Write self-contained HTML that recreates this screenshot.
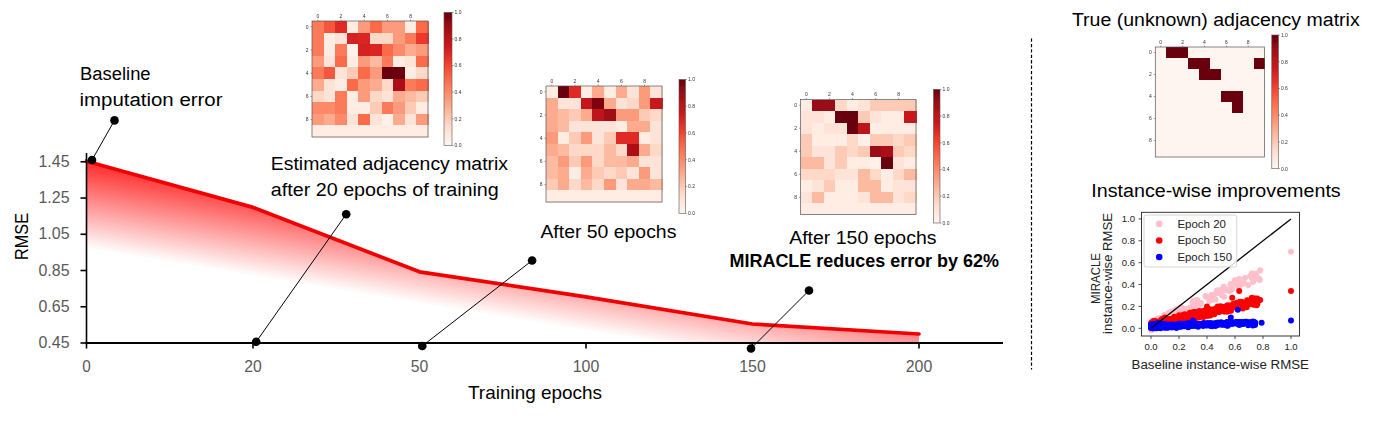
<!DOCTYPE html>
<html><head><meta charset="utf-8"><title>MIRACLE figure</title>
<style>html,body{margin:0;padding:0;background:#fff;width:1376px;height:422px;overflow:hidden;}svg{display:block;font-family:"Liberation Sans", sans-serif;}</style>
</head><body>
<svg width="1376" height="422" viewBox="0 0 1376 422" font-family="'Liberation Sans', sans-serif">
<defs>
<linearGradient id="areaGrad" gradientUnits="userSpaceOnUse" x1="90.0" y1="144.0" x2="73.1" y2="246.5">
<stop offset="0" stop-color="#ff0000" stop-opacity="1"/>
<stop offset="1" stop-color="#ff0000" stop-opacity="0"/>
</linearGradient>
<linearGradient id="cb" x1="0" y1="1" x2="0" y2="0">
<stop offset="0.000" stop-color="#fff5f0"/>
<stop offset="0.125" stop-color="#fee0d2"/>
<stop offset="0.250" stop-color="#fcbba1"/>
<stop offset="0.375" stop-color="#fc9272"/>
<stop offset="0.500" stop-color="#fb6a4a"/>
<stop offset="0.625" stop-color="#ef3b2c"/>
<stop offset="0.750" stop-color="#cb181d"/>
<stop offset="0.875" stop-color="#a50f15"/>
<stop offset="1.000" stop-color="#67000d"/>
</linearGradient>
</defs>
<polygon points="86.5,161.2 253.0,207.4 419.5,271.8 586.0,296.8 752.5,324.0 919.0,334.0 919,343 86.5,343" fill="url(#areaGrad)"/>
<polyline points="86.5,161.2 253.0,207.4 419.5,271.8 586.0,296.8 752.5,324.0 919.0,334.0" fill="none" stroke="#f00000" stroke-width="3.7" stroke-linejoin="round" stroke-linecap="round"/>
<line x1="86.5" y1="153" x2="86.5" y2="343.5" stroke="#000" stroke-width="1.6"/>
<line x1="85.8" y1="343" x2="1003" y2="343" stroke="#000" stroke-width="2"/>
<line x1="80.5" y1="343.00" x2="86.5" y2="343.00" stroke="#000" stroke-width="1.6"/>
<text x="69.5" y="348.00" font-size="16" fill="#595959" text-anchor="end" textLength="31" lengthAdjust="spacingAndGlyphs">0.45</text>
<line x1="80.5" y1="306.76" x2="86.5" y2="306.76" stroke="#000" stroke-width="1.6"/>
<text x="69.5" y="311.76" font-size="16" fill="#595959" text-anchor="end" textLength="31" lengthAdjust="spacingAndGlyphs">0.65</text>
<line x1="80.5" y1="270.52" x2="86.5" y2="270.52" stroke="#000" stroke-width="1.6"/>
<text x="69.5" y="275.52" font-size="16" fill="#595959" text-anchor="end" textLength="31" lengthAdjust="spacingAndGlyphs">0.85</text>
<line x1="80.5" y1="234.28" x2="86.5" y2="234.28" stroke="#000" stroke-width="1.6"/>
<text x="69.5" y="239.28" font-size="16" fill="#595959" text-anchor="end" textLength="31" lengthAdjust="spacingAndGlyphs">1.05</text>
<line x1="80.5" y1="198.04" x2="86.5" y2="198.04" stroke="#000" stroke-width="1.6"/>
<text x="69.5" y="203.04" font-size="16" fill="#595959" text-anchor="end" textLength="31" lengthAdjust="spacingAndGlyphs">1.25</text>
<line x1="80.5" y1="161.80" x2="86.5" y2="161.80" stroke="#000" stroke-width="1.6"/>
<text x="69.5" y="166.80" font-size="16" fill="#595959" text-anchor="end" textLength="31" lengthAdjust="spacingAndGlyphs">1.45</text>
<line x1="86.50" y1="342" x2="86.50" y2="348.5" stroke="#000" stroke-width="1.6"/>
<text x="86.50" y="371.8" font-size="16" fill="#595959" text-anchor="middle" textLength="8.5" lengthAdjust="spacingAndGlyphs">0</text>
<line x1="253.00" y1="342" x2="253.00" y2="348.5" stroke="#000" stroke-width="1.6"/>
<text x="253.00" y="371.8" font-size="16" fill="#595959" text-anchor="middle" textLength="17.5" lengthAdjust="spacingAndGlyphs">20</text>
<line x1="419.50" y1="342" x2="419.50" y2="348.5" stroke="#000" stroke-width="1.6"/>
<text x="419.50" y="371.8" font-size="16" fill="#595959" text-anchor="middle" textLength="17.5" lengthAdjust="spacingAndGlyphs">50</text>
<line x1="586.00" y1="342" x2="586.00" y2="348.5" stroke="#000" stroke-width="1.6"/>
<text x="586.00" y="371.8" font-size="16" fill="#595959" text-anchor="middle" textLength="26.5" lengthAdjust="spacingAndGlyphs">100</text>
<line x1="752.50" y1="342" x2="752.50" y2="348.5" stroke="#000" stroke-width="1.6"/>
<text x="752.50" y="371.8" font-size="16" fill="#595959" text-anchor="middle" textLength="26.5" lengthAdjust="spacingAndGlyphs">150</text>
<line x1="919.00" y1="342" x2="919.00" y2="348.5" stroke="#000" stroke-width="1.6"/>
<text x="919.00" y="371.8" font-size="16" fill="#595959" text-anchor="middle" textLength="26.5" lengthAdjust="spacingAndGlyphs">200</text>
<text x="0" y="0" font-size="19" fill="#000" text-anchor="middle" transform="translate(28.2,236.5) rotate(-90)" textLength="47" lengthAdjust="spacingAndGlyphs">RMSE</text>
<text x="468" y="399" font-size="19" fill="#000" textLength="134" lengthAdjust="spacingAndGlyphs">Training epochs</text>
<filter id="soft" x="-5%" y="-5%" width="110%" height="110%"><feGaussianBlur stdDeviation="0.45"/></filter><g filter="url(#soft)">
<g shape-rendering="crispEdges">
<rect x="312.00" y="21.00" width="12.20" height="12.20" fill="#fb7a5a"/>
<rect x="323.60" y="21.00" width="12.20" height="12.20" fill="#f6573e"/>
<rect x="335.20" y="21.00" width="12.20" height="12.20" fill="#df2c25"/>
<rect x="346.80" y="21.00" width="12.20" height="12.20" fill="#ffede4"/>
<rect x="358.40" y="21.00" width="12.20" height="12.20" fill="#fc9a7b"/>
<rect x="370.00" y="21.00" width="12.20" height="12.20" fill="#fb6a4a"/>
<rect x="381.60" y="21.00" width="12.20" height="12.20" fill="#fc9a7b"/>
<rect x="393.20" y="21.00" width="12.20" height="12.20" fill="#fc9a7b"/>
<rect x="404.80" y="21.00" width="12.20" height="12.20" fill="#ffede4"/>
<rect x="416.40" y="21.00" width="12.20" height="12.20" fill="#fb6a4a"/>
<rect x="312.00" y="32.60" width="12.20" height="12.20" fill="#fb7a5a"/>
<rect x="323.60" y="32.60" width="12.20" height="12.20" fill="#ffede4"/>
<rect x="335.20" y="32.60" width="12.20" height="12.20" fill="#fee4d8"/>
<rect x="346.80" y="32.60" width="12.20" height="12.20" fill="#d42021"/>
<rect x="358.40" y="32.60" width="12.20" height="12.20" fill="#d92623"/>
<rect x="370.00" y="32.60" width="12.20" height="12.20" fill="#fed9c8"/>
<rect x="381.60" y="32.60" width="12.20" height="12.20" fill="#fed9c8"/>
<rect x="393.20" y="32.60" width="12.20" height="12.20" fill="#fc9a7b"/>
<rect x="404.80" y="32.60" width="12.20" height="12.20" fill="#fb7a5a"/>
<rect x="416.40" y="32.60" width="12.20" height="12.20" fill="#eb372a"/>
<rect x="312.00" y="44.20" width="12.20" height="12.20" fill="#fb7a5a"/>
<rect x="323.60" y="44.20" width="12.20" height="12.20" fill="#ffede4"/>
<rect x="335.20" y="44.20" width="12.20" height="12.20" fill="#fb7a5a"/>
<rect x="346.80" y="44.20" width="12.20" height="12.20" fill="#fff0e9"/>
<rect x="358.40" y="44.20" width="12.20" height="12.20" fill="#d42021"/>
<rect x="370.00" y="44.20" width="12.20" height="12.20" fill="#d92623"/>
<rect x="381.60" y="44.20" width="12.20" height="12.20" fill="#fb6a4a"/>
<rect x="393.20" y="44.20" width="12.20" height="12.20" fill="#fc8a6a"/>
<rect x="404.80" y="44.20" width="12.20" height="12.20" fill="#fcab8e"/>
<rect x="416.40" y="44.20" width="12.20" height="12.20" fill="#fc9a7b"/>
<rect x="312.00" y="55.80" width="12.20" height="12.20" fill="#fc9a7b"/>
<rect x="323.60" y="55.80" width="12.20" height="12.20" fill="#fee4d8"/>
<rect x="335.20" y="55.80" width="12.20" height="12.20" fill="#fb6a4a"/>
<rect x="346.80" y="55.80" width="12.20" height="12.20" fill="#ffede4"/>
<rect x="358.40" y="55.80" width="12.20" height="12.20" fill="#fc9a7b"/>
<rect x="370.00" y="55.80" width="12.20" height="12.20" fill="#fcbba1"/>
<rect x="381.60" y="55.80" width="12.20" height="12.20" fill="#fb7a5a"/>
<rect x="393.20" y="55.80" width="12.20" height="12.20" fill="#ffede4"/>
<rect x="404.80" y="55.80" width="12.20" height="12.20" fill="#fee4d8"/>
<rect x="416.40" y="55.80" width="12.20" height="12.20" fill="#fb6a4a"/>
<rect x="312.00" y="67.40" width="12.20" height="12.20" fill="#fb7a5a"/>
<rect x="323.60" y="67.40" width="12.20" height="12.20" fill="#f6573e"/>
<rect x="335.20" y="67.40" width="12.20" height="12.20" fill="#fee4d8"/>
<rect x="346.80" y="67.40" width="12.20" height="12.20" fill="#fdcab5"/>
<rect x="358.40" y="67.40" width="12.20" height="12.20" fill="#fb6a4a"/>
<rect x="370.00" y="67.40" width="12.20" height="12.20" fill="#fc9a7b"/>
<rect x="381.60" y="67.40" width="12.20" height="12.20" fill="#67000d"/>
<rect x="393.20" y="67.40" width="12.20" height="12.20" fill="#67000d"/>
<rect x="404.80" y="67.40" width="12.20" height="12.20" fill="#ffede4"/>
<rect x="416.40" y="67.40" width="12.20" height="12.20" fill="#fed9c8"/>
<rect x="312.00" y="79.00" width="12.20" height="12.20" fill="#fcab8e"/>
<rect x="323.60" y="79.00" width="12.20" height="12.20" fill="#fee4d8"/>
<rect x="335.20" y="79.00" width="12.20" height="12.20" fill="#ffede4"/>
<rect x="346.80" y="79.00" width="12.20" height="12.20" fill="#fb6a4a"/>
<rect x="358.40" y="79.00" width="12.20" height="12.20" fill="#fc9a7b"/>
<rect x="370.00" y="79.00" width="12.20" height="12.20" fill="#fcab8e"/>
<rect x="381.60" y="79.00" width="12.20" height="12.20" fill="#fed9c8"/>
<rect x="393.20" y="79.00" width="12.20" height="12.20" fill="#ad1117"/>
<rect x="404.80" y="79.00" width="12.20" height="12.20" fill="#fb7a5a"/>
<rect x="416.40" y="79.00" width="12.20" height="12.20" fill="#fb6a4a"/>
<rect x="312.00" y="90.60" width="12.20" height="12.20" fill="#fed9c8"/>
<rect x="323.60" y="90.60" width="12.20" height="12.20" fill="#fee4d8"/>
<rect x="335.20" y="90.60" width="12.20" height="12.20" fill="#fb7a5a"/>
<rect x="346.80" y="90.60" width="12.20" height="12.20" fill="#ffede4"/>
<rect x="358.40" y="90.60" width="12.20" height="12.20" fill="#fc9a7b"/>
<rect x="370.00" y="90.60" width="12.20" height="12.20" fill="#fed9c8"/>
<rect x="381.60" y="90.60" width="12.20" height="12.20" fill="#fee4d8"/>
<rect x="393.20" y="90.60" width="12.20" height="12.20" fill="#fcab8e"/>
<rect x="404.80" y="90.60" width="12.20" height="12.20" fill="#fcbba1"/>
<rect x="416.40" y="90.60" width="12.20" height="12.20" fill="#fdcab5"/>
<rect x="312.00" y="102.20" width="12.20" height="12.20" fill="#fc8a6a"/>
<rect x="323.60" y="102.20" width="12.20" height="12.20" fill="#fc8a6a"/>
<rect x="335.20" y="102.20" width="12.20" height="12.20" fill="#fb7a5a"/>
<rect x="346.80" y="102.20" width="12.20" height="12.20" fill="#ffede4"/>
<rect x="358.40" y="102.20" width="12.20" height="12.20" fill="#ffede4"/>
<rect x="370.00" y="102.20" width="12.20" height="12.20" fill="#fdcab5"/>
<rect x="381.60" y="102.20" width="12.20" height="12.20" fill="#fb7a5a"/>
<rect x="393.20" y="102.20" width="12.20" height="12.20" fill="#fc9a7b"/>
<rect x="404.80" y="102.20" width="12.20" height="12.20" fill="#fdcab5"/>
<rect x="416.40" y="102.20" width="12.20" height="12.20" fill="#ffede4"/>
<rect x="312.00" y="113.80" width="12.20" height="12.20" fill="#fc9a7b"/>
<rect x="323.60" y="113.80" width="12.20" height="12.20" fill="#fcab8e"/>
<rect x="335.20" y="113.80" width="12.20" height="12.20" fill="#fc8a6a"/>
<rect x="346.80" y="113.80" width="12.20" height="12.20" fill="#fee4d8"/>
<rect x="358.40" y="113.80" width="12.20" height="12.20" fill="#fb6a4a"/>
<rect x="370.00" y="113.80" width="12.20" height="12.20" fill="#fee4d8"/>
<rect x="381.60" y="113.80" width="12.20" height="12.20" fill="#fff0e9"/>
<rect x="393.20" y="113.80" width="12.20" height="12.20" fill="#fcab8e"/>
<rect x="404.80" y="113.80" width="12.20" height="12.20" fill="#fee4d8"/>
<rect x="416.40" y="113.80" width="12.20" height="12.20" fill="#fc9a7b"/>
<rect x="312.00" y="125.40" width="12.20" height="12.20" fill="#ffede4"/>
<rect x="323.60" y="125.40" width="12.20" height="12.20" fill="#ffede4"/>
<rect x="335.20" y="125.40" width="12.20" height="12.20" fill="#ffede4"/>
<rect x="346.80" y="125.40" width="12.20" height="12.20" fill="#ffede4"/>
<rect x="358.40" y="125.40" width="12.20" height="12.20" fill="#ffede4"/>
<rect x="370.00" y="125.40" width="12.20" height="12.20" fill="#ffede4"/>
<rect x="381.60" y="125.40" width="12.20" height="12.20" fill="#ffede4"/>
<rect x="393.20" y="125.40" width="12.20" height="12.20" fill="#ffede4"/>
<rect x="404.80" y="125.40" width="12.20" height="12.20" fill="#ffede4"/>
<rect x="416.40" y="125.40" width="12.20" height="12.20" fill="#ffede4"/>
</g>
<rect x="312.00" y="21.00" width="116.00" height="116.00" fill="none" stroke="#555" stroke-width="0.7"/>
<line x1="317.80" y1="19.50" x2="317.80" y2="21.00" stroke="#444" stroke-width="0.5"/>
<text x="317.80" y="17.50" font-size="5" fill="#333" text-anchor="middle">0</text>
<line x1="310.50" y1="26.80" x2="312.00" y2="26.80" stroke="#444" stroke-width="0.5"/>
<text x="308.50" y="28.60" font-size="5" fill="#333" text-anchor="end">0</text>
<line x1="341.00" y1="19.50" x2="341.00" y2="21.00" stroke="#444" stroke-width="0.5"/>
<text x="341.00" y="17.50" font-size="5" fill="#333" text-anchor="middle">2</text>
<line x1="310.50" y1="50.00" x2="312.00" y2="50.00" stroke="#444" stroke-width="0.5"/>
<text x="308.50" y="51.80" font-size="5" fill="#333" text-anchor="end">2</text>
<line x1="364.20" y1="19.50" x2="364.20" y2="21.00" stroke="#444" stroke-width="0.5"/>
<text x="364.20" y="17.50" font-size="5" fill="#333" text-anchor="middle">4</text>
<line x1="310.50" y1="73.20" x2="312.00" y2="73.20" stroke="#444" stroke-width="0.5"/>
<text x="308.50" y="75.00" font-size="5" fill="#333" text-anchor="end">4</text>
<line x1="387.40" y1="19.50" x2="387.40" y2="21.00" stroke="#444" stroke-width="0.5"/>
<text x="387.40" y="17.50" font-size="5" fill="#333" text-anchor="middle">6</text>
<line x1="310.50" y1="96.40" x2="312.00" y2="96.40" stroke="#444" stroke-width="0.5"/>
<text x="308.50" y="98.20" font-size="5" fill="#333" text-anchor="end">6</text>
<line x1="410.60" y1="19.50" x2="410.60" y2="21.00" stroke="#444" stroke-width="0.5"/>
<text x="410.60" y="17.50" font-size="5" fill="#333" text-anchor="middle">8</text>
<line x1="310.50" y1="119.60" x2="312.00" y2="119.60" stroke="#444" stroke-width="0.5"/>
<text x="308.50" y="121.40" font-size="5" fill="#333" text-anchor="end">8</text>
<rect x="444.00" y="12.40" width="8.00" height="133.10" fill="url(#cb)" stroke="#555" stroke-width="0.6"/>
<line x1="452.00" y1="145.50" x2="453.50" y2="145.50" stroke="#444" stroke-width="0.5"/>
<text x="454.50" y="147.30" font-size="5" fill="#333">0.0</text>
<line x1="452.00" y1="118.88" x2="453.50" y2="118.88" stroke="#444" stroke-width="0.5"/>
<text x="454.50" y="120.68" font-size="5" fill="#333">0.2</text>
<line x1="452.00" y1="92.26" x2="453.50" y2="92.26" stroke="#444" stroke-width="0.5"/>
<text x="454.50" y="94.06" font-size="5" fill="#333">0.4</text>
<line x1="452.00" y1="65.64" x2="453.50" y2="65.64" stroke="#444" stroke-width="0.5"/>
<text x="454.50" y="67.44" font-size="5" fill="#333">0.6</text>
<line x1="452.00" y1="39.02" x2="453.50" y2="39.02" stroke="#444" stroke-width="0.5"/>
<text x="454.50" y="40.82" font-size="5" fill="#333">0.8</text>
<line x1="452.00" y1="12.40" x2="453.50" y2="12.40" stroke="#444" stroke-width="0.5"/>
<text x="454.50" y="14.20" font-size="5" fill="#333">1.0</text>
<g shape-rendering="crispEdges">
<rect x="546.00" y="86.00" width="12.20" height="12.20" fill="#ffede4"/>
<rect x="557.60" y="86.00" width="12.20" height="12.20" fill="#67000d"/>
<rect x="569.20" y="86.00" width="12.20" height="12.20" fill="#df2c25"/>
<rect x="580.80" y="86.00" width="12.20" height="12.20" fill="#ffede4"/>
<rect x="592.40" y="86.00" width="12.20" height="12.20" fill="#fcab8e"/>
<rect x="604.00" y="86.00" width="12.20" height="12.20" fill="#ffede4"/>
<rect x="615.60" y="86.00" width="12.20" height="12.20" fill="#fcab8e"/>
<rect x="627.20" y="86.00" width="12.20" height="12.20" fill="#fee4d8"/>
<rect x="638.80" y="86.00" width="12.20" height="12.20" fill="#fc9a7b"/>
<rect x="650.40" y="86.00" width="12.20" height="12.20" fill="#fee4d8"/>
<rect x="546.00" y="97.60" width="12.20" height="12.20" fill="#fcab8e"/>
<rect x="557.60" y="97.60" width="12.20" height="12.20" fill="#fee4d8"/>
<rect x="569.20" y="97.60" width="12.20" height="12.20" fill="#fee4d8"/>
<rect x="580.80" y="97.60" width="12.20" height="12.20" fill="#c2161b"/>
<rect x="592.40" y="97.60" width="12.20" height="12.20" fill="#800610"/>
<rect x="604.00" y="97.60" width="12.20" height="12.20" fill="#fcab8e"/>
<rect x="615.60" y="97.60" width="12.20" height="12.20" fill="#fee4d8"/>
<rect x="627.20" y="97.60" width="12.20" height="12.20" fill="#fed9c8"/>
<rect x="638.80" y="97.60" width="12.20" height="12.20" fill="#fc9a7b"/>
<rect x="650.40" y="97.60" width="12.20" height="12.20" fill="#cb181d"/>
<rect x="546.00" y="109.20" width="12.20" height="12.20" fill="#fcab8e"/>
<rect x="557.60" y="109.20" width="12.20" height="12.20" fill="#fcbba1"/>
<rect x="569.20" y="109.20" width="12.20" height="12.20" fill="#fdcab5"/>
<rect x="580.80" y="109.20" width="12.20" height="12.20" fill="#fcab8e"/>
<rect x="592.40" y="109.20" width="12.20" height="12.20" fill="#bc141a"/>
<rect x="604.00" y="109.20" width="12.20" height="12.20" fill="#a30e15"/>
<rect x="615.60" y="109.20" width="12.20" height="12.20" fill="#fc9a7b"/>
<rect x="627.20" y="109.20" width="12.20" height="12.20" fill="#fc9a7b"/>
<rect x="638.80" y="109.20" width="12.20" height="12.20" fill="#fdcab5"/>
<rect x="650.40" y="109.20" width="12.20" height="12.20" fill="#fed9c8"/>
<rect x="546.00" y="120.80" width="12.20" height="12.20" fill="#fcab8e"/>
<rect x="557.60" y="120.80" width="12.20" height="12.20" fill="#fcbba1"/>
<rect x="569.20" y="120.80" width="12.20" height="12.20" fill="#fee4d8"/>
<rect x="580.80" y="120.80" width="12.20" height="12.20" fill="#fee4d8"/>
<rect x="592.40" y="120.80" width="12.20" height="12.20" fill="#fee4d8"/>
<rect x="604.00" y="120.80" width="12.20" height="12.20" fill="#fee4d8"/>
<rect x="615.60" y="120.80" width="12.20" height="12.20" fill="#ffede4"/>
<rect x="627.20" y="120.80" width="12.20" height="12.20" fill="#fcab8e"/>
<rect x="638.80" y="120.80" width="12.20" height="12.20" fill="#fcab8e"/>
<rect x="650.40" y="120.80" width="12.20" height="12.20" fill="#fee4d8"/>
<rect x="546.00" y="132.40" width="12.20" height="12.20" fill="#fc9a7b"/>
<rect x="557.60" y="132.40" width="12.20" height="12.20" fill="#ffede4"/>
<rect x="569.20" y="132.40" width="12.20" height="12.20" fill="#fdcab5"/>
<rect x="580.80" y="132.40" width="12.20" height="12.20" fill="#fc9a7b"/>
<rect x="592.40" y="132.40" width="12.20" height="12.20" fill="#fee4d8"/>
<rect x="604.00" y="132.40" width="12.20" height="12.20" fill="#fdcab5"/>
<rect x="615.60" y="132.40" width="12.20" height="12.20" fill="#df2c25"/>
<rect x="627.20" y="132.40" width="12.20" height="12.20" fill="#df2c25"/>
<rect x="638.80" y="132.40" width="12.20" height="12.20" fill="#ffede4"/>
<rect x="650.40" y="132.40" width="12.20" height="12.20" fill="#fee4d8"/>
<rect x="546.00" y="144.00" width="12.20" height="12.20" fill="#fcab8e"/>
<rect x="557.60" y="144.00" width="12.20" height="12.20" fill="#fcbba1"/>
<rect x="569.20" y="144.00" width="12.20" height="12.20" fill="#fed9c8"/>
<rect x="580.80" y="144.00" width="12.20" height="12.20" fill="#fed9c8"/>
<rect x="592.40" y="144.00" width="12.20" height="12.20" fill="#fed9c8"/>
<rect x="604.00" y="144.00" width="12.20" height="12.20" fill="#fcbba1"/>
<rect x="615.60" y="144.00" width="12.20" height="12.20" fill="#fed9c8"/>
<rect x="627.20" y="144.00" width="12.20" height="12.20" fill="#ad1117"/>
<rect x="638.80" y="144.00" width="12.20" height="12.20" fill="#fcab8e"/>
<rect x="650.40" y="144.00" width="12.20" height="12.20" fill="#fed9c8"/>
<rect x="546.00" y="155.60" width="12.20" height="12.20" fill="#fcbba1"/>
<rect x="557.60" y="155.60" width="12.20" height="12.20" fill="#fc9a7b"/>
<rect x="569.20" y="155.60" width="12.20" height="12.20" fill="#fdcab5"/>
<rect x="580.80" y="155.60" width="12.20" height="12.20" fill="#fc9a7b"/>
<rect x="592.40" y="155.60" width="12.20" height="12.20" fill="#fed9c8"/>
<rect x="604.00" y="155.60" width="12.20" height="12.20" fill="#fcbba1"/>
<rect x="615.60" y="155.60" width="12.20" height="12.20" fill="#fcbba1"/>
<rect x="627.20" y="155.60" width="12.20" height="12.20" fill="#fcab8e"/>
<rect x="638.80" y="155.60" width="12.20" height="12.20" fill="#fee4d8"/>
<rect x="650.40" y="155.60" width="12.20" height="12.20" fill="#fee4d8"/>
<rect x="546.00" y="167.20" width="12.20" height="12.20" fill="#fcbba1"/>
<rect x="557.60" y="167.20" width="12.20" height="12.20" fill="#fcab8e"/>
<rect x="569.20" y="167.20" width="12.20" height="12.20" fill="#ffede4"/>
<rect x="580.80" y="167.20" width="12.20" height="12.20" fill="#fcab8e"/>
<rect x="592.40" y="167.20" width="12.20" height="12.20" fill="#fdcab5"/>
<rect x="604.00" y="167.20" width="12.20" height="12.20" fill="#fed9c8"/>
<rect x="615.60" y="167.20" width="12.20" height="12.20" fill="#fdcab5"/>
<rect x="627.20" y="167.20" width="12.20" height="12.20" fill="#fee4d8"/>
<rect x="638.80" y="167.20" width="12.20" height="12.20" fill="#fc9a7b"/>
<rect x="650.40" y="167.20" width="12.20" height="12.20" fill="#fee4d8"/>
<rect x="546.00" y="178.80" width="12.20" height="12.20" fill="#fdcab5"/>
<rect x="557.60" y="178.80" width="12.20" height="12.20" fill="#fcab8e"/>
<rect x="569.20" y="178.80" width="12.20" height="12.20" fill="#fed9c8"/>
<rect x="580.80" y="178.80" width="12.20" height="12.20" fill="#fcbba1"/>
<rect x="592.40" y="178.80" width="12.20" height="12.20" fill="#fed9c8"/>
<rect x="604.00" y="178.80" width="12.20" height="12.20" fill="#fc9a7b"/>
<rect x="615.60" y="178.80" width="12.20" height="12.20" fill="#fee4d8"/>
<rect x="627.20" y="178.80" width="12.20" height="12.20" fill="#fcab8e"/>
<rect x="638.80" y="178.80" width="12.20" height="12.20" fill="#fcab8e"/>
<rect x="650.40" y="178.80" width="12.20" height="12.20" fill="#fcbba1"/>
<rect x="546.00" y="190.40" width="12.20" height="12.20" fill="#ffede4"/>
<rect x="557.60" y="190.40" width="12.20" height="12.20" fill="#ffede4"/>
<rect x="569.20" y="190.40" width="12.20" height="12.20" fill="#ffede4"/>
<rect x="580.80" y="190.40" width="12.20" height="12.20" fill="#ffede4"/>
<rect x="592.40" y="190.40" width="12.20" height="12.20" fill="#ffede4"/>
<rect x="604.00" y="190.40" width="12.20" height="12.20" fill="#ffede4"/>
<rect x="615.60" y="190.40" width="12.20" height="12.20" fill="#ffede4"/>
<rect x="627.20" y="190.40" width="12.20" height="12.20" fill="#ffede4"/>
<rect x="638.80" y="190.40" width="12.20" height="12.20" fill="#ffede4"/>
<rect x="650.40" y="190.40" width="12.20" height="12.20" fill="#ffede4"/>
</g>
<rect x="546.00" y="86.00" width="116.00" height="116.00" fill="none" stroke="#555" stroke-width="0.7"/>
<line x1="551.80" y1="84.50" x2="551.80" y2="86.00" stroke="#444" stroke-width="0.5"/>
<text x="551.80" y="82.50" font-size="5" fill="#333" text-anchor="middle">0</text>
<line x1="544.50" y1="91.80" x2="546.00" y2="91.80" stroke="#444" stroke-width="0.5"/>
<text x="542.50" y="93.60" font-size="5" fill="#333" text-anchor="end">0</text>
<line x1="575.00" y1="84.50" x2="575.00" y2="86.00" stroke="#444" stroke-width="0.5"/>
<text x="575.00" y="82.50" font-size="5" fill="#333" text-anchor="middle">2</text>
<line x1="544.50" y1="115.00" x2="546.00" y2="115.00" stroke="#444" stroke-width="0.5"/>
<text x="542.50" y="116.80" font-size="5" fill="#333" text-anchor="end">2</text>
<line x1="598.20" y1="84.50" x2="598.20" y2="86.00" stroke="#444" stroke-width="0.5"/>
<text x="598.20" y="82.50" font-size="5" fill="#333" text-anchor="middle">4</text>
<line x1="544.50" y1="138.20" x2="546.00" y2="138.20" stroke="#444" stroke-width="0.5"/>
<text x="542.50" y="140.00" font-size="5" fill="#333" text-anchor="end">4</text>
<line x1="621.40" y1="84.50" x2="621.40" y2="86.00" stroke="#444" stroke-width="0.5"/>
<text x="621.40" y="82.50" font-size="5" fill="#333" text-anchor="middle">6</text>
<line x1="544.50" y1="161.40" x2="546.00" y2="161.40" stroke="#444" stroke-width="0.5"/>
<text x="542.50" y="163.20" font-size="5" fill="#333" text-anchor="end">6</text>
<line x1="644.60" y1="84.50" x2="644.60" y2="86.00" stroke="#444" stroke-width="0.5"/>
<text x="644.60" y="82.50" font-size="5" fill="#333" text-anchor="middle">8</text>
<line x1="544.50" y1="184.60" x2="546.00" y2="184.60" stroke="#444" stroke-width="0.5"/>
<text x="542.50" y="186.40" font-size="5" fill="#333" text-anchor="end">8</text>
<rect x="679.00" y="79.50" width="6.50" height="133.80" fill="url(#cb)" stroke="#555" stroke-width="0.6"/>
<line x1="685.50" y1="213.30" x2="687.00" y2="213.30" stroke="#444" stroke-width="0.5"/>
<text x="688.00" y="215.10" font-size="5" fill="#333">0.0</text>
<line x1="685.50" y1="186.54" x2="687.00" y2="186.54" stroke="#444" stroke-width="0.5"/>
<text x="688.00" y="188.34" font-size="5" fill="#333">0.2</text>
<line x1="685.50" y1="159.78" x2="687.00" y2="159.78" stroke="#444" stroke-width="0.5"/>
<text x="688.00" y="161.58" font-size="5" fill="#333">0.4</text>
<line x1="685.50" y1="133.02" x2="687.00" y2="133.02" stroke="#444" stroke-width="0.5"/>
<text x="688.00" y="134.82" font-size="5" fill="#333">0.6</text>
<line x1="685.50" y1="106.26" x2="687.00" y2="106.26" stroke="#444" stroke-width="0.5"/>
<text x="688.00" y="108.06" font-size="5" fill="#333">0.8</text>
<line x1="685.50" y1="79.50" x2="687.00" y2="79.50" stroke="#444" stroke-width="0.5"/>
<text x="688.00" y="81.30" font-size="5" fill="#333">1.0</text>
<g shape-rendering="crispEdges">
<rect x="800.50" y="99.50" width="12.15" height="12.11" fill="#ffede4"/>
<rect x="812.05" y="99.50" width="12.15" height="12.11" fill="#990c13"/>
<rect x="823.60" y="99.50" width="12.15" height="12.11" fill="#990c13"/>
<rect x="835.15" y="99.50" width="12.15" height="12.11" fill="#fed9c8"/>
<rect x="846.70" y="99.50" width="12.15" height="12.11" fill="#ffede4"/>
<rect x="858.25" y="99.50" width="12.15" height="12.11" fill="#fee4d8"/>
<rect x="869.80" y="99.50" width="12.15" height="12.11" fill="#fdcab5"/>
<rect x="881.35" y="99.50" width="12.15" height="12.11" fill="#fdcab5"/>
<rect x="892.90" y="99.50" width="12.15" height="12.11" fill="#fdcab5"/>
<rect x="904.45" y="99.50" width="12.15" height="12.11" fill="#fdcab5"/>
<rect x="800.50" y="111.01" width="12.15" height="12.11" fill="#fee4d8"/>
<rect x="812.05" y="111.01" width="12.15" height="12.11" fill="#fee4d8"/>
<rect x="823.60" y="111.01" width="12.15" height="12.11" fill="#ffede4"/>
<rect x="835.15" y="111.01" width="12.15" height="12.11" fill="#67000d"/>
<rect x="846.70" y="111.01" width="12.15" height="12.11" fill="#67000d"/>
<rect x="858.25" y="111.01" width="12.15" height="12.11" fill="#fdcab5"/>
<rect x="869.80" y="111.01" width="12.15" height="12.11" fill="#fee4d8"/>
<rect x="881.35" y="111.01" width="12.15" height="12.11" fill="#ffede4"/>
<rect x="892.90" y="111.01" width="12.15" height="12.11" fill="#ffede4"/>
<rect x="904.45" y="111.01" width="12.15" height="12.11" fill="#c8171c"/>
<rect x="800.50" y="122.52" width="12.15" height="12.11" fill="#fee4d8"/>
<rect x="812.05" y="122.52" width="12.15" height="12.11" fill="#ffede4"/>
<rect x="823.60" y="122.52" width="12.15" height="12.11" fill="#fee4d8"/>
<rect x="835.15" y="122.52" width="12.15" height="12.11" fill="#fee4d8"/>
<rect x="846.70" y="122.52" width="12.15" height="12.11" fill="#67000d"/>
<rect x="858.25" y="122.52" width="12.15" height="12.11" fill="#bc141a"/>
<rect x="869.80" y="122.52" width="12.15" height="12.11" fill="#ffede4"/>
<rect x="881.35" y="122.52" width="12.15" height="12.11" fill="#ffede4"/>
<rect x="892.90" y="122.52" width="12.15" height="12.11" fill="#ffede4"/>
<rect x="904.45" y="122.52" width="12.15" height="12.11" fill="#ffede4"/>
<rect x="800.50" y="134.03" width="12.15" height="12.11" fill="#fdcab5"/>
<rect x="812.05" y="134.03" width="12.15" height="12.11" fill="#ffede4"/>
<rect x="823.60" y="134.03" width="12.15" height="12.11" fill="#ffede4"/>
<rect x="835.15" y="134.03" width="12.15" height="12.11" fill="#ffede4"/>
<rect x="846.70" y="134.03" width="12.15" height="12.11" fill="#fed9c8"/>
<rect x="858.25" y="134.03" width="12.15" height="12.11" fill="#fff0e9"/>
<rect x="869.80" y="134.03" width="12.15" height="12.11" fill="#fdcab5"/>
<rect x="881.35" y="134.03" width="12.15" height="12.11" fill="#fdcab5"/>
<rect x="892.90" y="134.03" width="12.15" height="12.11" fill="#fed9c8"/>
<rect x="904.45" y="134.03" width="12.15" height="12.11" fill="#fdcab5"/>
<rect x="800.50" y="145.54" width="12.15" height="12.11" fill="#fdcab5"/>
<rect x="812.05" y="145.54" width="12.15" height="12.11" fill="#fee4d8"/>
<rect x="823.60" y="145.54" width="12.15" height="12.11" fill="#fee4d8"/>
<rect x="835.15" y="145.54" width="12.15" height="12.11" fill="#fdcab5"/>
<rect x="846.70" y="145.54" width="12.15" height="12.11" fill="#fed9c8"/>
<rect x="858.25" y="145.54" width="12.15" height="12.11" fill="#fdcab5"/>
<rect x="869.80" y="145.54" width="12.15" height="12.11" fill="#990c13"/>
<rect x="881.35" y="145.54" width="12.15" height="12.11" fill="#ad1117"/>
<rect x="892.90" y="145.54" width="12.15" height="12.11" fill="#fdcab5"/>
<rect x="904.45" y="145.54" width="12.15" height="12.11" fill="#fed9c8"/>
<rect x="800.50" y="157.05" width="12.15" height="12.11" fill="#fcbba1"/>
<rect x="812.05" y="157.05" width="12.15" height="12.11" fill="#fcbba1"/>
<rect x="823.60" y="157.05" width="12.15" height="12.11" fill="#fee4d8"/>
<rect x="835.15" y="157.05" width="12.15" height="12.11" fill="#fdcab5"/>
<rect x="846.70" y="157.05" width="12.15" height="12.11" fill="#ffede4"/>
<rect x="858.25" y="157.05" width="12.15" height="12.11" fill="#ffede4"/>
<rect x="869.80" y="157.05" width="12.15" height="12.11" fill="#fff0e9"/>
<rect x="881.35" y="157.05" width="12.15" height="12.11" fill="#67000d"/>
<rect x="892.90" y="157.05" width="12.15" height="12.11" fill="#fee4d8"/>
<rect x="904.45" y="157.05" width="12.15" height="12.11" fill="#ffede4"/>
<rect x="800.50" y="168.56" width="12.15" height="12.11" fill="#fed9c8"/>
<rect x="812.05" y="168.56" width="12.15" height="12.11" fill="#fed9c8"/>
<rect x="823.60" y="168.56" width="12.15" height="12.11" fill="#fed9c8"/>
<rect x="835.15" y="168.56" width="12.15" height="12.11" fill="#fee4d8"/>
<rect x="846.70" y="168.56" width="12.15" height="12.11" fill="#fee4d8"/>
<rect x="858.25" y="168.56" width="12.15" height="12.11" fill="#fcbba1"/>
<rect x="869.80" y="168.56" width="12.15" height="12.11" fill="#fed9c8"/>
<rect x="881.35" y="168.56" width="12.15" height="12.11" fill="#ffede4"/>
<rect x="892.90" y="168.56" width="12.15" height="12.11" fill="#fed9c8"/>
<rect x="904.45" y="168.56" width="12.15" height="12.11" fill="#fcbba1"/>
<rect x="800.50" y="180.07" width="12.15" height="12.11" fill="#ffede4"/>
<rect x="812.05" y="180.07" width="12.15" height="12.11" fill="#fee4d8"/>
<rect x="823.60" y="180.07" width="12.15" height="12.11" fill="#fdcab5"/>
<rect x="835.15" y="180.07" width="12.15" height="12.11" fill="#ffede4"/>
<rect x="846.70" y="180.07" width="12.15" height="12.11" fill="#ffede4"/>
<rect x="858.25" y="180.07" width="12.15" height="12.11" fill="#fcbba1"/>
<rect x="869.80" y="180.07" width="12.15" height="12.11" fill="#fcbba1"/>
<rect x="881.35" y="180.07" width="12.15" height="12.11" fill="#ffede4"/>
<rect x="892.90" y="180.07" width="12.15" height="12.11" fill="#fee4d8"/>
<rect x="904.45" y="180.07" width="12.15" height="12.11" fill="#fee4d8"/>
<rect x="800.50" y="191.58" width="12.15" height="12.11" fill="#fee4d8"/>
<rect x="812.05" y="191.58" width="12.15" height="12.11" fill="#fcbba1"/>
<rect x="823.60" y="191.58" width="12.15" height="12.11" fill="#ffede4"/>
<rect x="835.15" y="191.58" width="12.15" height="12.11" fill="#ffede4"/>
<rect x="846.70" y="191.58" width="12.15" height="12.11" fill="#ffede4"/>
<rect x="858.25" y="191.58" width="12.15" height="12.11" fill="#fee4d8"/>
<rect x="869.80" y="191.58" width="12.15" height="12.11" fill="#fcbba1"/>
<rect x="881.35" y="191.58" width="12.15" height="12.11" fill="#fcbba1"/>
<rect x="892.90" y="191.58" width="12.15" height="12.11" fill="#fee4d8"/>
<rect x="904.45" y="191.58" width="12.15" height="12.11" fill="#fed9c8"/>
<rect x="800.50" y="203.09" width="12.15" height="12.11" fill="#ffede4"/>
<rect x="812.05" y="203.09" width="12.15" height="12.11" fill="#ffede4"/>
<rect x="823.60" y="203.09" width="12.15" height="12.11" fill="#ffede4"/>
<rect x="835.15" y="203.09" width="12.15" height="12.11" fill="#ffede4"/>
<rect x="846.70" y="203.09" width="12.15" height="12.11" fill="#ffede4"/>
<rect x="858.25" y="203.09" width="12.15" height="12.11" fill="#ffede4"/>
<rect x="869.80" y="203.09" width="12.15" height="12.11" fill="#ffede4"/>
<rect x="881.35" y="203.09" width="12.15" height="12.11" fill="#ffede4"/>
<rect x="892.90" y="203.09" width="12.15" height="12.11" fill="#ffede4"/>
<rect x="904.45" y="203.09" width="12.15" height="12.11" fill="#ffede4"/>
</g>
<rect x="800.50" y="99.50" width="115.50" height="115.10" fill="none" stroke="#555" stroke-width="0.7"/>
<line x1="806.27" y1="98.00" x2="806.27" y2="99.50" stroke="#444" stroke-width="0.5"/>
<text x="806.27" y="96.00" font-size="5" fill="#333" text-anchor="middle">0</text>
<line x1="799.00" y1="105.25" x2="800.50" y2="105.25" stroke="#444" stroke-width="0.5"/>
<text x="797.00" y="107.05" font-size="5" fill="#333" text-anchor="end">0</text>
<line x1="829.38" y1="98.00" x2="829.38" y2="99.50" stroke="#444" stroke-width="0.5"/>
<text x="829.38" y="96.00" font-size="5" fill="#333" text-anchor="middle">2</text>
<line x1="799.00" y1="128.28" x2="800.50" y2="128.28" stroke="#444" stroke-width="0.5"/>
<text x="797.00" y="130.08" font-size="5" fill="#333" text-anchor="end">2</text>
<line x1="852.48" y1="98.00" x2="852.48" y2="99.50" stroke="#444" stroke-width="0.5"/>
<text x="852.48" y="96.00" font-size="5" fill="#333" text-anchor="middle">4</text>
<line x1="799.00" y1="151.30" x2="800.50" y2="151.30" stroke="#444" stroke-width="0.5"/>
<text x="797.00" y="153.10" font-size="5" fill="#333" text-anchor="end">4</text>
<line x1="875.58" y1="98.00" x2="875.58" y2="99.50" stroke="#444" stroke-width="0.5"/>
<text x="875.58" y="96.00" font-size="5" fill="#333" text-anchor="middle">6</text>
<line x1="799.00" y1="174.31" x2="800.50" y2="174.31" stroke="#444" stroke-width="0.5"/>
<text x="797.00" y="176.12" font-size="5" fill="#333" text-anchor="end">6</text>
<line x1="898.67" y1="98.00" x2="898.67" y2="99.50" stroke="#444" stroke-width="0.5"/>
<text x="898.67" y="96.00" font-size="5" fill="#333" text-anchor="middle">8</text>
<line x1="799.00" y1="197.33" x2="800.50" y2="197.33" stroke="#444" stroke-width="0.5"/>
<text x="797.00" y="199.13" font-size="5" fill="#333" text-anchor="end">8</text>
<rect x="933.50" y="89.40" width="6.50" height="133.60" fill="url(#cb)" stroke="#555" stroke-width="0.6"/>
<line x1="940.00" y1="223.00" x2="941.50" y2="223.00" stroke="#444" stroke-width="0.5"/>
<text x="942.50" y="224.80" font-size="5" fill="#333">0.0</text>
<line x1="940.00" y1="196.28" x2="941.50" y2="196.28" stroke="#444" stroke-width="0.5"/>
<text x="942.50" y="198.08" font-size="5" fill="#333">0.2</text>
<line x1="940.00" y1="169.56" x2="941.50" y2="169.56" stroke="#444" stroke-width="0.5"/>
<text x="942.50" y="171.36" font-size="5" fill="#333">0.4</text>
<line x1="940.00" y1="142.84" x2="941.50" y2="142.84" stroke="#444" stroke-width="0.5"/>
<text x="942.50" y="144.64" font-size="5" fill="#333">0.6</text>
<line x1="940.00" y1="116.12" x2="941.50" y2="116.12" stroke="#444" stroke-width="0.5"/>
<text x="942.50" y="117.92" font-size="5" fill="#333">0.8</text>
<line x1="940.00" y1="89.40" x2="941.50" y2="89.40" stroke="#444" stroke-width="0.5"/>
<text x="942.50" y="91.20" font-size="5" fill="#333">1.0</text>
<g shape-rendering="crispEdges">
<rect x="1155.30" y="47.00" width="11.53" height="11.60" fill="#fff5f0"/>
<rect x="1166.23" y="47.00" width="11.53" height="11.60" fill="#67000d"/>
<rect x="1177.16" y="47.00" width="11.53" height="11.60" fill="#67000d"/>
<rect x="1188.09" y="47.00" width="11.53" height="11.60" fill="#fff5f0"/>
<rect x="1199.02" y="47.00" width="11.53" height="11.60" fill="#fff5f0"/>
<rect x="1209.95" y="47.00" width="11.53" height="11.60" fill="#fff5f0"/>
<rect x="1220.88" y="47.00" width="11.53" height="11.60" fill="#fff5f0"/>
<rect x="1231.81" y="47.00" width="11.53" height="11.60" fill="#fff5f0"/>
<rect x="1242.74" y="47.00" width="11.53" height="11.60" fill="#fff5f0"/>
<rect x="1253.67" y="47.00" width="11.53" height="11.60" fill="#fff5f0"/>
<rect x="1155.30" y="58.00" width="11.53" height="11.60" fill="#fff5f0"/>
<rect x="1166.23" y="58.00" width="11.53" height="11.60" fill="#fff5f0"/>
<rect x="1177.16" y="58.00" width="11.53" height="11.60" fill="#fff5f0"/>
<rect x="1188.09" y="58.00" width="11.53" height="11.60" fill="#67000d"/>
<rect x="1199.02" y="58.00" width="11.53" height="11.60" fill="#67000d"/>
<rect x="1209.95" y="58.00" width="11.53" height="11.60" fill="#fff5f0"/>
<rect x="1220.88" y="58.00" width="11.53" height="11.60" fill="#fff5f0"/>
<rect x="1231.81" y="58.00" width="11.53" height="11.60" fill="#fff5f0"/>
<rect x="1242.74" y="58.00" width="11.53" height="11.60" fill="#fff5f0"/>
<rect x="1253.67" y="58.00" width="11.53" height="11.60" fill="#67000d"/>
<rect x="1155.30" y="69.00" width="11.53" height="11.60" fill="#fff5f0"/>
<rect x="1166.23" y="69.00" width="11.53" height="11.60" fill="#fff5f0"/>
<rect x="1177.16" y="69.00" width="11.53" height="11.60" fill="#fff5f0"/>
<rect x="1188.09" y="69.00" width="11.53" height="11.60" fill="#fff5f0"/>
<rect x="1199.02" y="69.00" width="11.53" height="11.60" fill="#67000d"/>
<rect x="1209.95" y="69.00" width="11.53" height="11.60" fill="#67000d"/>
<rect x="1220.88" y="69.00" width="11.53" height="11.60" fill="#fff5f0"/>
<rect x="1231.81" y="69.00" width="11.53" height="11.60" fill="#fff5f0"/>
<rect x="1242.74" y="69.00" width="11.53" height="11.60" fill="#fff5f0"/>
<rect x="1253.67" y="69.00" width="11.53" height="11.60" fill="#fff5f0"/>
<rect x="1155.30" y="80.00" width="11.53" height="11.60" fill="#fff5f0"/>
<rect x="1166.23" y="80.00" width="11.53" height="11.60" fill="#fff5f0"/>
<rect x="1177.16" y="80.00" width="11.53" height="11.60" fill="#fff5f0"/>
<rect x="1188.09" y="80.00" width="11.53" height="11.60" fill="#fff5f0"/>
<rect x="1199.02" y="80.00" width="11.53" height="11.60" fill="#fff5f0"/>
<rect x="1209.95" y="80.00" width="11.53" height="11.60" fill="#fff5f0"/>
<rect x="1220.88" y="80.00" width="11.53" height="11.60" fill="#fff5f0"/>
<rect x="1231.81" y="80.00" width="11.53" height="11.60" fill="#fff5f0"/>
<rect x="1242.74" y="80.00" width="11.53" height="11.60" fill="#fff5f0"/>
<rect x="1253.67" y="80.00" width="11.53" height="11.60" fill="#fff5f0"/>
<rect x="1155.30" y="91.00" width="11.53" height="11.60" fill="#fff5f0"/>
<rect x="1166.23" y="91.00" width="11.53" height="11.60" fill="#fff5f0"/>
<rect x="1177.16" y="91.00" width="11.53" height="11.60" fill="#fff5f0"/>
<rect x="1188.09" y="91.00" width="11.53" height="11.60" fill="#fff5f0"/>
<rect x="1199.02" y="91.00" width="11.53" height="11.60" fill="#fff5f0"/>
<rect x="1209.95" y="91.00" width="11.53" height="11.60" fill="#fff5f0"/>
<rect x="1220.88" y="91.00" width="11.53" height="11.60" fill="#67000d"/>
<rect x="1231.81" y="91.00" width="11.53" height="11.60" fill="#67000d"/>
<rect x="1242.74" y="91.00" width="11.53" height="11.60" fill="#fff5f0"/>
<rect x="1253.67" y="91.00" width="11.53" height="11.60" fill="#fff5f0"/>
<rect x="1155.30" y="102.00" width="11.53" height="11.60" fill="#fff5f0"/>
<rect x="1166.23" y="102.00" width="11.53" height="11.60" fill="#fff5f0"/>
<rect x="1177.16" y="102.00" width="11.53" height="11.60" fill="#fff5f0"/>
<rect x="1188.09" y="102.00" width="11.53" height="11.60" fill="#fff5f0"/>
<rect x="1199.02" y="102.00" width="11.53" height="11.60" fill="#fff5f0"/>
<rect x="1209.95" y="102.00" width="11.53" height="11.60" fill="#fff5f0"/>
<rect x="1220.88" y="102.00" width="11.53" height="11.60" fill="#fff5f0"/>
<rect x="1231.81" y="102.00" width="11.53" height="11.60" fill="#67000d"/>
<rect x="1242.74" y="102.00" width="11.53" height="11.60" fill="#fff5f0"/>
<rect x="1253.67" y="102.00" width="11.53" height="11.60" fill="#fff5f0"/>
<rect x="1155.30" y="113.00" width="11.53" height="11.60" fill="#fff5f0"/>
<rect x="1166.23" y="113.00" width="11.53" height="11.60" fill="#fff5f0"/>
<rect x="1177.16" y="113.00" width="11.53" height="11.60" fill="#fff5f0"/>
<rect x="1188.09" y="113.00" width="11.53" height="11.60" fill="#fff5f0"/>
<rect x="1199.02" y="113.00" width="11.53" height="11.60" fill="#fff5f0"/>
<rect x="1209.95" y="113.00" width="11.53" height="11.60" fill="#fff5f0"/>
<rect x="1220.88" y="113.00" width="11.53" height="11.60" fill="#fff5f0"/>
<rect x="1231.81" y="113.00" width="11.53" height="11.60" fill="#fff5f0"/>
<rect x="1242.74" y="113.00" width="11.53" height="11.60" fill="#fff5f0"/>
<rect x="1253.67" y="113.00" width="11.53" height="11.60" fill="#fff5f0"/>
<rect x="1155.30" y="124.00" width="11.53" height="11.60" fill="#fff5f0"/>
<rect x="1166.23" y="124.00" width="11.53" height="11.60" fill="#fff5f0"/>
<rect x="1177.16" y="124.00" width="11.53" height="11.60" fill="#fff5f0"/>
<rect x="1188.09" y="124.00" width="11.53" height="11.60" fill="#fff5f0"/>
<rect x="1199.02" y="124.00" width="11.53" height="11.60" fill="#fff5f0"/>
<rect x="1209.95" y="124.00" width="11.53" height="11.60" fill="#fff5f0"/>
<rect x="1220.88" y="124.00" width="11.53" height="11.60" fill="#fff5f0"/>
<rect x="1231.81" y="124.00" width="11.53" height="11.60" fill="#fff5f0"/>
<rect x="1242.74" y="124.00" width="11.53" height="11.60" fill="#fff5f0"/>
<rect x="1253.67" y="124.00" width="11.53" height="11.60" fill="#fff5f0"/>
<rect x="1155.30" y="135.00" width="11.53" height="11.60" fill="#fff5f0"/>
<rect x="1166.23" y="135.00" width="11.53" height="11.60" fill="#fff5f0"/>
<rect x="1177.16" y="135.00" width="11.53" height="11.60" fill="#fff5f0"/>
<rect x="1188.09" y="135.00" width="11.53" height="11.60" fill="#fff5f0"/>
<rect x="1199.02" y="135.00" width="11.53" height="11.60" fill="#fff5f0"/>
<rect x="1209.95" y="135.00" width="11.53" height="11.60" fill="#fff5f0"/>
<rect x="1220.88" y="135.00" width="11.53" height="11.60" fill="#fff5f0"/>
<rect x="1231.81" y="135.00" width="11.53" height="11.60" fill="#fff5f0"/>
<rect x="1242.74" y="135.00" width="11.53" height="11.60" fill="#fff5f0"/>
<rect x="1253.67" y="135.00" width="11.53" height="11.60" fill="#fff5f0"/>
<rect x="1155.30" y="146.00" width="11.53" height="11.60" fill="#fff5f0"/>
<rect x="1166.23" y="146.00" width="11.53" height="11.60" fill="#fff5f0"/>
<rect x="1177.16" y="146.00" width="11.53" height="11.60" fill="#fff5f0"/>
<rect x="1188.09" y="146.00" width="11.53" height="11.60" fill="#fff5f0"/>
<rect x="1199.02" y="146.00" width="11.53" height="11.60" fill="#fff5f0"/>
<rect x="1209.95" y="146.00" width="11.53" height="11.60" fill="#fff5f0"/>
<rect x="1220.88" y="146.00" width="11.53" height="11.60" fill="#fff5f0"/>
<rect x="1231.81" y="146.00" width="11.53" height="11.60" fill="#fff5f0"/>
<rect x="1242.74" y="146.00" width="11.53" height="11.60" fill="#fff5f0"/>
<rect x="1253.67" y="146.00" width="11.53" height="11.60" fill="#fff5f0"/>
</g>
<rect x="1155.30" y="47.00" width="109.30" height="110.00" fill="none" stroke="#555" stroke-width="0.7"/>
<line x1="1160.76" y1="45.50" x2="1160.76" y2="47.00" stroke="#444" stroke-width="0.5"/>
<text x="1160.76" y="43.50" font-size="5" fill="#333" text-anchor="middle">0</text>
<line x1="1153.80" y1="52.50" x2="1155.30" y2="52.50" stroke="#444" stroke-width="0.5"/>
<text x="1151.80" y="54.30" font-size="5" fill="#333" text-anchor="end">0</text>
<line x1="1182.62" y1="45.50" x2="1182.62" y2="47.00" stroke="#444" stroke-width="0.5"/>
<text x="1182.62" y="43.50" font-size="5" fill="#333" text-anchor="middle">2</text>
<line x1="1153.80" y1="74.50" x2="1155.30" y2="74.50" stroke="#444" stroke-width="0.5"/>
<text x="1151.80" y="76.30" font-size="5" fill="#333" text-anchor="end">2</text>
<line x1="1204.48" y1="45.50" x2="1204.48" y2="47.00" stroke="#444" stroke-width="0.5"/>
<text x="1204.48" y="43.50" font-size="5" fill="#333" text-anchor="middle">4</text>
<line x1="1153.80" y1="96.50" x2="1155.30" y2="96.50" stroke="#444" stroke-width="0.5"/>
<text x="1151.80" y="98.30" font-size="5" fill="#333" text-anchor="end">4</text>
<line x1="1226.35" y1="45.50" x2="1226.35" y2="47.00" stroke="#444" stroke-width="0.5"/>
<text x="1226.35" y="43.50" font-size="5" fill="#333" text-anchor="middle">6</text>
<line x1="1153.80" y1="118.50" x2="1155.30" y2="118.50" stroke="#444" stroke-width="0.5"/>
<text x="1151.80" y="120.30" font-size="5" fill="#333" text-anchor="end">6</text>
<line x1="1248.20" y1="45.50" x2="1248.20" y2="47.00" stroke="#444" stroke-width="0.5"/>
<text x="1248.20" y="43.50" font-size="5" fill="#333" text-anchor="middle">8</text>
<line x1="1153.80" y1="140.50" x2="1155.30" y2="140.50" stroke="#444" stroke-width="0.5"/>
<text x="1151.80" y="142.30" font-size="5" fill="#333" text-anchor="end">8</text>
<rect x="1271.80" y="35.00" width="6.60" height="133.70" fill="url(#cb)" stroke="#555" stroke-width="0.6"/>
<line x1="1278.40" y1="168.70" x2="1279.90" y2="168.70" stroke="#444" stroke-width="0.5"/>
<text x="1280.90" y="170.50" font-size="5" fill="#333">0.0</text>
<line x1="1278.40" y1="141.96" x2="1279.90" y2="141.96" stroke="#444" stroke-width="0.5"/>
<text x="1280.90" y="143.76" font-size="5" fill="#333">0.2</text>
<line x1="1278.40" y1="115.22" x2="1279.90" y2="115.22" stroke="#444" stroke-width="0.5"/>
<text x="1280.90" y="117.02" font-size="5" fill="#333">0.4</text>
<line x1="1278.40" y1="88.48" x2="1279.90" y2="88.48" stroke="#444" stroke-width="0.5"/>
<text x="1280.90" y="90.28" font-size="5" fill="#333">0.6</text>
<line x1="1278.40" y1="61.74" x2="1279.90" y2="61.74" stroke="#444" stroke-width="0.5"/>
<text x="1280.90" y="63.54" font-size="5" fill="#333">0.8</text>
<line x1="1278.40" y1="35.00" x2="1279.90" y2="35.00" stroke="#444" stroke-width="0.5"/>
<text x="1280.90" y="36.80" font-size="5" fill="#333">1.0</text>
</g>
<text x="80.0" y="80.2" font-size="18" fill="#000" textLength="70.6" lengthAdjust="spacingAndGlyphs">Baseline</text>
<text x="79.5" y="105.8" font-size="18" fill="#000" textLength="143.0" lengthAdjust="spacingAndGlyphs">imputation error</text>
<line x1="114.5" y1="120.4" x2="92.0" y2="160.0" stroke="#000" stroke-width="1"/><circle cx="114.5" cy="120.4" r="4.3" fill="#000"/><circle cx="92.0" cy="160.0" r="4.3" fill="#000"/>
<text x="270.8" y="169.6" font-size="18" fill="#000" textLength="237.2" lengthAdjust="spacingAndGlyphs">Estimated adjacency matrix</text>
<text x="270.8" y="195.7" font-size="18" fill="#000" textLength="228.0" lengthAdjust="spacingAndGlyphs">after 20 epochs of training</text>
<line x1="346.2" y1="214.2" x2="256.2" y2="341.8" stroke="#000" stroke-width="1"/><circle cx="346.2" cy="214.2" r="4.3" fill="#000"/><circle cx="256.2" cy="341.8" r="4.3" fill="#000"/>
<text x="540.4" y="238.2" font-size="18" fill="#000" textLength="136.0" lengthAdjust="spacingAndGlyphs">After 50 epochs</text>
<line x1="532.1" y1="260.5" x2="422.3" y2="346.0" stroke="#000" stroke-width="1"/><circle cx="532.1" cy="260.5" r="4.3" fill="#000"/><circle cx="422.3" cy="346.0" r="4.3" fill="#000"/>
<text x="789.2" y="244.4" font-size="18" fill="#000" textLength="147.3" lengthAdjust="spacingAndGlyphs">After 150 epochs</text>
<text x="729.5" y="266.6" font-size="18" fill="#000" font-weight="bold" textLength="269.5" lengthAdjust="spacingAndGlyphs">MIRACLE reduces error by 62%</text>
<line x1="809.0" y1="290.5" x2="751.0" y2="348.5" stroke="#000" stroke-width="1"/><circle cx="809.0" cy="290.5" r="4.3" fill="#000"/><circle cx="751.0" cy="348.5" r="4.3" fill="#000"/>
<text x="1071.9" y="25.7" font-size="18" fill="#000" textLength="287.8" lengthAdjust="spacingAndGlyphs">True (unknown) adjacency matrix</text>
<text x="1091.3" y="196.6" font-size="18" fill="#000" textLength="249.4" lengthAdjust="spacingAndGlyphs">Instance-wise improvements</text>
<line x1="1031.5" y1="38.5" x2="1031.5" y2="369.5" stroke="#000" stroke-width="1.2" stroke-dasharray="3.3 2.1"/>
<rect x="1141.5" y="212.3" width="158" height="123.7" fill="#fff" stroke="#222" stroke-width="0.9"/>
<clipPath id="axclip"><rect x="1141.5" y="212.3" width="158" height="123.7"/></clipPath>
<g clip-path="url(#axclip)">
<circle cx="1175.2" cy="315.9" r="3" fill="#ffc0cb"/>
<circle cx="1187.3" cy="309.1" r="3" fill="#ffc0cb"/>
<circle cx="1245.0" cy="277.9" r="3" fill="#ffc0cb"/>
<circle cx="1176.6" cy="309.3" r="3" fill="#ffc0cb"/>
<circle cx="1181.1" cy="307.1" r="3" fill="#ffc0cb"/>
<circle cx="1190.7" cy="311.3" r="3" fill="#ffc0cb"/>
<circle cx="1155.4" cy="325.3" r="3" fill="#ffc0cb"/>
<circle cx="1181.6" cy="316.2" r="3" fill="#ffc0cb"/>
<circle cx="1196.4" cy="300.0" r="3" fill="#ffc0cb"/>
<circle cx="1221.3" cy="293.7" r="3" fill="#ffc0cb"/>
<circle cx="1152.2" cy="324.4" r="3" fill="#ffc0cb"/>
<circle cx="1162.3" cy="322.4" r="3" fill="#ffc0cb"/>
<circle cx="1152.1" cy="322.9" r="3" fill="#ffc0cb"/>
<circle cx="1224.1" cy="296.7" r="3" fill="#ffc0cb"/>
<circle cx="1205.5" cy="296.0" r="3" fill="#ffc0cb"/>
<circle cx="1151.3" cy="325.6" r="3" fill="#ffc0cb"/>
<circle cx="1256.5" cy="278.3" r="3" fill="#ffc0cb"/>
<circle cx="1253.0" cy="282.0" r="3" fill="#ffc0cb"/>
<circle cx="1199.7" cy="305.0" r="3" fill="#ffc0cb"/>
<circle cx="1194.4" cy="307.1" r="3" fill="#ffc0cb"/>
<circle cx="1154.3" cy="326.9" r="3" fill="#ffc0cb"/>
<circle cx="1151.0" cy="329.9" r="3" fill="#ffc0cb"/>
<circle cx="1183.5" cy="308.5" r="3" fill="#ffc0cb"/>
<circle cx="1151.5" cy="327.0" r="3" fill="#ffc0cb"/>
<circle cx="1155.7" cy="327.6" r="3" fill="#ffc0cb"/>
<circle cx="1158.4" cy="326.0" r="3" fill="#ffc0cb"/>
<circle cx="1151.1" cy="324.3" r="3" fill="#ffc0cb"/>
<circle cx="1176.4" cy="316.5" r="3" fill="#ffc0cb"/>
<circle cx="1174.0" cy="318.5" r="3" fill="#ffc0cb"/>
<circle cx="1229.8" cy="289.0" r="3" fill="#ffc0cb"/>
<circle cx="1182.4" cy="311.8" r="3" fill="#ffc0cb"/>
<circle cx="1197.8" cy="302.1" r="3" fill="#ffc0cb"/>
<circle cx="1180.2" cy="312.4" r="3" fill="#ffc0cb"/>
<circle cx="1200.9" cy="302.9" r="3" fill="#ffc0cb"/>
<circle cx="1175.7" cy="310.0" r="3" fill="#ffc0cb"/>
<circle cx="1160.6" cy="322.2" r="3" fill="#ffc0cb"/>
<circle cx="1259.7" cy="280.0" r="3" fill="#ffc0cb"/>
<circle cx="1259.3" cy="278.7" r="3" fill="#ffc0cb"/>
<circle cx="1229.4" cy="290.9" r="3" fill="#ffc0cb"/>
<circle cx="1207.6" cy="297.5" r="3" fill="#ffc0cb"/>
<circle cx="1163.2" cy="322.1" r="3" fill="#ffc0cb"/>
<circle cx="1157.7" cy="322.9" r="3" fill="#ffc0cb"/>
<circle cx="1161.3" cy="319.7" r="3" fill="#ffc0cb"/>
<circle cx="1151.7" cy="328.7" r="3" fill="#ffc0cb"/>
<circle cx="1216.9" cy="290.7" r="3" fill="#ffc0cb"/>
<circle cx="1170.2" cy="319.0" r="3" fill="#ffc0cb"/>
<circle cx="1230.6" cy="284.0" r="3" fill="#ffc0cb"/>
<circle cx="1168.9" cy="317.9" r="3" fill="#ffc0cb"/>
<circle cx="1251.7" cy="277.8" r="3" fill="#ffc0cb"/>
<circle cx="1230.7" cy="285.3" r="3" fill="#ffc0cb"/>
<circle cx="1151.0" cy="327.4" r="3" fill="#ffc0cb"/>
<circle cx="1156.6" cy="322.5" r="3" fill="#ffc0cb"/>
<circle cx="1242.3" cy="283.6" r="3" fill="#ffc0cb"/>
<circle cx="1177.0" cy="317.8" r="3" fill="#ffc0cb"/>
<circle cx="1256.2" cy="273.6" r="3" fill="#ffc0cb"/>
<circle cx="1169.9" cy="312.3" r="3" fill="#ffc0cb"/>
<circle cx="1151.8" cy="322.9" r="3" fill="#ffc0cb"/>
<circle cx="1196.3" cy="305.9" r="3" fill="#ffc0cb"/>
<circle cx="1218.9" cy="290.6" r="3" fill="#ffc0cb"/>
<circle cx="1160.1" cy="317.9" r="3" fill="#ffc0cb"/>
<circle cx="1152.1" cy="329.3" r="3" fill="#ffc0cb"/>
<circle cx="1164.5" cy="320.6" r="3" fill="#ffc0cb"/>
<circle cx="1252.9" cy="276.8" r="3" fill="#ffc0cb"/>
<circle cx="1215.5" cy="299.4" r="3" fill="#ffc0cb"/>
<circle cx="1152.9" cy="322.6" r="3" fill="#ffc0cb"/>
<circle cx="1158.6" cy="323.4" r="3" fill="#ffc0cb"/>
<circle cx="1152.4" cy="321.7" r="3" fill="#ffc0cb"/>
<circle cx="1151.5" cy="324.2" r="3" fill="#ffc0cb"/>
<circle cx="1222.0" cy="295.4" r="3" fill="#ffc0cb"/>
<circle cx="1155.1" cy="328.0" r="3" fill="#ffc0cb"/>
<circle cx="1187.2" cy="312.6" r="3" fill="#ffc0cb"/>
<circle cx="1174.7" cy="312.9" r="3" fill="#ffc0cb"/>
<circle cx="1155.7" cy="323.9" r="3" fill="#ffc0cb"/>
<circle cx="1211.3" cy="295.1" r="3" fill="#ffc0cb"/>
<circle cx="1153.3" cy="320.9" r="3" fill="#ffc0cb"/>
<circle cx="1198.3" cy="303.0" r="3" fill="#ffc0cb"/>
<circle cx="1152.8" cy="328.1" r="3" fill="#ffc0cb"/>
<circle cx="1172.1" cy="319.3" r="3" fill="#ffc0cb"/>
<circle cx="1156.8" cy="324.8" r="3" fill="#ffc0cb"/>
<circle cx="1160.1" cy="326.2" r="3" fill="#ffc0cb"/>
<circle cx="1254.2" cy="274.6" r="3" fill="#ffc0cb"/>
<circle cx="1223.0" cy="288.4" r="3" fill="#ffc0cb"/>
<circle cx="1162.4" cy="319.3" r="3" fill="#ffc0cb"/>
<circle cx="1237.6" cy="282.4" r="3" fill="#ffc0cb"/>
<circle cx="1156.7" cy="319.9" r="3" fill="#ffc0cb"/>
<circle cx="1169.6" cy="315.6" r="3" fill="#ffc0cb"/>
<circle cx="1232.0" cy="288.6" r="3" fill="#ffc0cb"/>
<circle cx="1198.0" cy="303.1" r="3" fill="#ffc0cb"/>
<circle cx="1152.4" cy="322.7" r="3" fill="#ffc0cb"/>
<circle cx="1258.0" cy="278.9" r="3" fill="#ffc0cb"/>
<circle cx="1156.8" cy="328.1" r="3" fill="#ffc0cb"/>
<circle cx="1159.3" cy="320.8" r="3" fill="#ffc0cb"/>
<circle cx="1217.9" cy="290.2" r="3" fill="#ffc0cb"/>
<circle cx="1164.2" cy="315.1" r="3" fill="#ffc0cb"/>
<circle cx="1161.8" cy="324.4" r="3" fill="#ffc0cb"/>
<circle cx="1151.8" cy="321.0" r="3" fill="#ffc0cb"/>
<circle cx="1152.1" cy="327.0" r="3" fill="#ffc0cb"/>
<circle cx="1190.1" cy="307.6" r="3" fill="#ffc0cb"/>
<circle cx="1158.4" cy="319.8" r="3" fill="#ffc0cb"/>
<circle cx="1192.5" cy="309.0" r="3" fill="#ffc0cb"/>
<circle cx="1167.7" cy="313.4" r="3" fill="#ffc0cb"/>
<circle cx="1175.3" cy="310.5" r="3" fill="#ffc0cb"/>
<circle cx="1251.9" cy="277.4" r="3" fill="#ffc0cb"/>
<circle cx="1178.5" cy="308.4" r="3" fill="#ffc0cb"/>
<circle cx="1189.1" cy="311.0" r="3" fill="#ffc0cb"/>
<circle cx="1234.2" cy="283.7" r="3" fill="#ffc0cb"/>
<circle cx="1155.3" cy="319.9" r="3" fill="#ffc0cb"/>
<circle cx="1154.1" cy="319.9" r="3" fill="#ffc0cb"/>
<circle cx="1242.0" cy="283.9" r="3" fill="#ffc0cb"/>
<circle cx="1225.5" cy="289.7" r="3" fill="#ffc0cb"/>
<circle cx="1158.8" cy="322.9" r="3" fill="#ffc0cb"/>
<circle cx="1155.6" cy="324.7" r="3" fill="#ffc0cb"/>
<circle cx="1212.5" cy="299.8" r="3" fill="#ffc0cb"/>
<circle cx="1248.2" cy="284.9" r="3" fill="#ffc0cb"/>
<circle cx="1156.0" cy="324.9" r="3" fill="#ffc0cb"/>
<circle cx="1250.1" cy="275.9" r="3" fill="#ffc0cb"/>
<circle cx="1237.1" cy="284.6" r="3" fill="#ffc0cb"/>
<circle cx="1192.8" cy="302.6" r="3" fill="#ffc0cb"/>
<circle cx="1172.1" cy="311.3" r="3" fill="#ffc0cb"/>
<circle cx="1152.5" cy="324.2" r="3" fill="#ffc0cb"/>
<circle cx="1151.2" cy="327.4" r="3" fill="#ffc0cb"/>
<circle cx="1252.6" cy="274.6" r="3" fill="#ffc0cb"/>
<circle cx="1158.2" cy="319.6" r="3" fill="#ffc0cb"/>
<circle cx="1207.1" cy="297.3" r="3" fill="#ffc0cb"/>
<circle cx="1159.3" cy="323.5" r="3" fill="#ffc0cb"/>
<circle cx="1226.5" cy="290.0" r="3" fill="#ffc0cb"/>
<circle cx="1191.9" cy="307.2" r="3" fill="#ffc0cb"/>
<circle cx="1161.6" cy="323.1" r="3" fill="#ffc0cb"/>
<circle cx="1155.0" cy="322.2" r="3" fill="#ffc0cb"/>
<circle cx="1209.6" cy="301.0" r="3" fill="#ffc0cb"/>
<circle cx="1151.7" cy="329.5" r="3" fill="#ffc0cb"/>
<circle cx="1157.6" cy="318.5" r="3" fill="#ffc0cb"/>
<circle cx="1187.2" cy="313.2" r="3" fill="#ffc0cb"/>
<circle cx="1231.6" cy="289.8" r="3" fill="#ffc0cb"/>
<circle cx="1194.3" cy="301.6" r="3" fill="#ffc0cb"/>
<circle cx="1160.7" cy="320.1" r="3" fill="#ffc0cb"/>
<circle cx="1243.7" cy="283.1" r="3" fill="#ffc0cb"/>
<circle cx="1156.3" cy="327.4" r="3" fill="#ffc0cb"/>
<circle cx="1151.0" cy="323.9" r="3" fill="#ffc0cb"/>
<circle cx="1160.0" cy="321.7" r="3" fill="#ffc0cb"/>
<circle cx="1174.5" cy="318.5" r="3" fill="#ffc0cb"/>
<circle cx="1151.5" cy="328.3" r="3" fill="#ffc0cb"/>
<circle cx="1155.0" cy="328.4" r="3" fill="#ffc0cb"/>
<circle cx="1167.4" cy="317.1" r="3" fill="#ffc0cb"/>
<circle cx="1188.8" cy="309.1" r="3" fill="#ffc0cb"/>
<circle cx="1153.3" cy="321.4" r="3" fill="#ffc0cb"/>
<circle cx="1166.9" cy="320.2" r="3" fill="#ffc0cb"/>
<circle cx="1238.7" cy="287.7" r="3" fill="#ffc0cb"/>
<circle cx="1256.2" cy="277.4" r="3" fill="#ffc0cb"/>
<circle cx="1200.1" cy="304.5" r="3" fill="#ffc0cb"/>
<circle cx="1291.0" cy="251.7" r="3" fill="#ffc0cb"/>
<circle cx="1193.0" cy="300.9" r="3" fill="#ffc0cb"/>
<circle cx="1197.2" cy="299.9" r="3" fill="#ffc0cb"/>
<circle cx="1214.0" cy="294.4" r="3" fill="#ffc0cb"/>
<circle cx="1216.8" cy="293.3" r="3" fill="#ffc0cb"/>
<circle cx="1223.8" cy="286.7" r="3" fill="#ffc0cb"/>
<circle cx="1235.0" cy="280.2" r="3" fill="#ffc0cb"/>
<circle cx="1239.2" cy="279.1" r="3" fill="#ffc0cb"/>
<circle cx="1260.2" cy="270.3" r="3" fill="#ffc0cb"/>
<circle cx="1251.8" cy="273.6" r="3" fill="#ffc0cb"/>
<circle cx="1163.2" cy="320.4" r="3" fill="#ff0000"/>
<circle cx="1242.8" cy="308.4" r="3" fill="#ff0000"/>
<circle cx="1254.5" cy="298.6" r="3" fill="#ff0000"/>
<circle cx="1254.0" cy="299.1" r="3" fill="#ff0000"/>
<circle cx="1195.6" cy="318.5" r="3" fill="#ff0000"/>
<circle cx="1227.6" cy="305.2" r="3" fill="#ff0000"/>
<circle cx="1172.6" cy="320.8" r="3" fill="#ff0000"/>
<circle cx="1244.2" cy="304.8" r="3" fill="#ff0000"/>
<circle cx="1236.6" cy="302.7" r="3" fill="#ff0000"/>
<circle cx="1175.3" cy="321.7" r="3" fill="#ff0000"/>
<circle cx="1154.3" cy="324.1" r="3" fill="#ff0000"/>
<circle cx="1184.8" cy="314.3" r="3" fill="#ff0000"/>
<circle cx="1197.1" cy="313.2" r="3" fill="#ff0000"/>
<circle cx="1224.6" cy="309.2" r="3" fill="#ff0000"/>
<circle cx="1189.9" cy="312.8" r="3" fill="#ff0000"/>
<circle cx="1151.7" cy="322.4" r="3" fill="#ff0000"/>
<circle cx="1230.1" cy="306.9" r="3" fill="#ff0000"/>
<circle cx="1153.3" cy="327.5" r="3" fill="#ff0000"/>
<circle cx="1228.8" cy="307.0" r="3" fill="#ff0000"/>
<circle cx="1160.1" cy="323.4" r="3" fill="#ff0000"/>
<circle cx="1174.0" cy="322.3" r="3" fill="#ff0000"/>
<circle cx="1227.2" cy="311.8" r="3" fill="#ff0000"/>
<circle cx="1157.8" cy="323.3" r="3" fill="#ff0000"/>
<circle cx="1158.4" cy="326.3" r="3" fill="#ff0000"/>
<circle cx="1193.2" cy="316.2" r="3" fill="#ff0000"/>
<circle cx="1218.6" cy="308.9" r="3" fill="#ff0000"/>
<circle cx="1234.4" cy="307.1" r="3" fill="#ff0000"/>
<circle cx="1214.2" cy="313.0" r="3" fill="#ff0000"/>
<circle cx="1249.4" cy="302.9" r="3" fill="#ff0000"/>
<circle cx="1190.5" cy="317.0" r="3" fill="#ff0000"/>
<circle cx="1249.9" cy="301.2" r="3" fill="#ff0000"/>
<circle cx="1154.4" cy="324.0" r="3" fill="#ff0000"/>
<circle cx="1163.9" cy="318.4" r="3" fill="#ff0000"/>
<circle cx="1194.4" cy="312.1" r="3" fill="#ff0000"/>
<circle cx="1169.8" cy="319.1" r="3" fill="#ff0000"/>
<circle cx="1219.3" cy="312.1" r="3" fill="#ff0000"/>
<circle cx="1207.8" cy="315.5" r="3" fill="#ff0000"/>
<circle cx="1193.9" cy="312.6" r="3" fill="#ff0000"/>
<circle cx="1234.9" cy="304.5" r="3" fill="#ff0000"/>
<circle cx="1198.2" cy="313.7" r="3" fill="#ff0000"/>
<circle cx="1171.8" cy="321.5" r="3" fill="#ff0000"/>
<circle cx="1178.6" cy="320.7" r="3" fill="#ff0000"/>
<circle cx="1235.1" cy="305.2" r="3" fill="#ff0000"/>
<circle cx="1242.9" cy="304.4" r="3" fill="#ff0000"/>
<circle cx="1162.8" cy="321.7" r="3" fill="#ff0000"/>
<circle cx="1235.9" cy="305.4" r="3" fill="#ff0000"/>
<circle cx="1252.7" cy="300.8" r="3" fill="#ff0000"/>
<circle cx="1194.1" cy="318.0" r="3" fill="#ff0000"/>
<circle cx="1199.8" cy="316.3" r="3" fill="#ff0000"/>
<circle cx="1162.3" cy="318.9" r="3" fill="#ff0000"/>
<circle cx="1195.4" cy="312.1" r="3" fill="#ff0000"/>
<circle cx="1191.7" cy="313.2" r="3" fill="#ff0000"/>
<circle cx="1203.7" cy="317.0" r="3" fill="#ff0000"/>
<circle cx="1151.7" cy="328.2" r="3" fill="#ff0000"/>
<circle cx="1252.9" cy="304.5" r="3" fill="#ff0000"/>
<circle cx="1193.1" cy="316.4" r="3" fill="#ff0000"/>
<circle cx="1180.6" cy="317.6" r="3" fill="#ff0000"/>
<circle cx="1229.0" cy="311.0" r="3" fill="#ff0000"/>
<circle cx="1198.6" cy="314.3" r="3" fill="#ff0000"/>
<circle cx="1190.3" cy="319.7" r="3" fill="#ff0000"/>
<circle cx="1214.4" cy="314.3" r="3" fill="#ff0000"/>
<circle cx="1153.4" cy="323.2" r="3" fill="#ff0000"/>
<circle cx="1195.8" cy="314.8" r="3" fill="#ff0000"/>
<circle cx="1181.9" cy="317.2" r="3" fill="#ff0000"/>
<circle cx="1251.0" cy="304.1" r="3" fill="#ff0000"/>
<circle cx="1246.2" cy="304.4" r="3" fill="#ff0000"/>
<circle cx="1167.9" cy="323.5" r="3" fill="#ff0000"/>
<circle cx="1188.3" cy="318.0" r="3" fill="#ff0000"/>
<circle cx="1156.9" cy="321.8" r="3" fill="#ff0000"/>
<circle cx="1184.0" cy="315.2" r="3" fill="#ff0000"/>
<circle cx="1231.0" cy="310.8" r="3" fill="#ff0000"/>
<circle cx="1242.9" cy="307.8" r="3" fill="#ff0000"/>
<circle cx="1188.7" cy="314.4" r="3" fill="#ff0000"/>
<circle cx="1172.3" cy="319.4" r="3" fill="#ff0000"/>
<circle cx="1161.5" cy="320.7" r="3" fill="#ff0000"/>
<circle cx="1205.2" cy="315.3" r="3" fill="#ff0000"/>
<circle cx="1246.4" cy="304.7" r="3" fill="#ff0000"/>
<circle cx="1157.1" cy="325.5" r="3" fill="#ff0000"/>
<circle cx="1226.0" cy="306.2" r="3" fill="#ff0000"/>
<circle cx="1151.5" cy="325.9" r="3" fill="#ff0000"/>
<circle cx="1161.7" cy="321.5" r="3" fill="#ff0000"/>
<circle cx="1164.4" cy="318.3" r="3" fill="#ff0000"/>
<circle cx="1213.9" cy="312.6" r="3" fill="#ff0000"/>
<circle cx="1172.8" cy="319.9" r="3" fill="#ff0000"/>
<circle cx="1176.0" cy="317.7" r="3" fill="#ff0000"/>
<circle cx="1205.5" cy="309.9" r="3" fill="#ff0000"/>
<circle cx="1155.5" cy="324.6" r="3" fill="#ff0000"/>
<circle cx="1219.6" cy="311.0" r="3" fill="#ff0000"/>
<circle cx="1156.6" cy="326.9" r="3" fill="#ff0000"/>
<circle cx="1192.5" cy="313.1" r="3" fill="#ff0000"/>
<circle cx="1166.3" cy="324.9" r="3" fill="#ff0000"/>
<circle cx="1162.0" cy="325.8" r="3" fill="#ff0000"/>
<circle cx="1194.8" cy="314.9" r="3" fill="#ff0000"/>
<circle cx="1184.4" cy="317.8" r="3" fill="#ff0000"/>
<circle cx="1178.0" cy="317.7" r="3" fill="#ff0000"/>
<circle cx="1181.9" cy="319.8" r="3" fill="#ff0000"/>
<circle cx="1194.7" cy="313.4" r="3" fill="#ff0000"/>
<circle cx="1159.2" cy="326.5" r="3" fill="#ff0000"/>
<circle cx="1162.5" cy="324.7" r="3" fill="#ff0000"/>
<circle cx="1206.9" cy="311.5" r="3" fill="#ff0000"/>
<circle cx="1207.8" cy="315.8" r="3" fill="#ff0000"/>
<circle cx="1194.7" cy="317.0" r="3" fill="#ff0000"/>
<circle cx="1235.9" cy="304.7" r="3" fill="#ff0000"/>
<circle cx="1204.5" cy="311.8" r="3" fill="#ff0000"/>
<circle cx="1236.7" cy="307.9" r="3" fill="#ff0000"/>
<circle cx="1164.8" cy="324.7" r="3" fill="#ff0000"/>
<circle cx="1220.9" cy="310.8" r="3" fill="#ff0000"/>
<circle cx="1230.3" cy="305.9" r="3" fill="#ff0000"/>
<circle cx="1243.2" cy="305.9" r="3" fill="#ff0000"/>
<circle cx="1172.2" cy="323.3" r="3" fill="#ff0000"/>
<circle cx="1172.1" cy="318.8" r="3" fill="#ff0000"/>
<circle cx="1246.1" cy="303.7" r="3" fill="#ff0000"/>
<circle cx="1163.6" cy="319.1" r="3" fill="#ff0000"/>
<circle cx="1257.2" cy="298.4" r="3" fill="#ff0000"/>
<circle cx="1241.0" cy="302.2" r="3" fill="#ff0000"/>
<circle cx="1157.4" cy="324.1" r="3" fill="#ff0000"/>
<circle cx="1165.4" cy="319.6" r="3" fill="#ff0000"/>
<circle cx="1219.0" cy="311.6" r="3" fill="#ff0000"/>
<circle cx="1167.1" cy="322.9" r="3" fill="#ff0000"/>
<circle cx="1155.1" cy="324.9" r="3" fill="#ff0000"/>
<circle cx="1233.3" cy="303.7" r="3" fill="#ff0000"/>
<circle cx="1182.8" cy="315.0" r="3" fill="#ff0000"/>
<circle cx="1227.5" cy="310.2" r="3" fill="#ff0000"/>
<circle cx="1156.9" cy="324.8" r="3" fill="#ff0000"/>
<circle cx="1180.8" cy="319.5" r="3" fill="#ff0000"/>
<circle cx="1213.7" cy="312.4" r="3" fill="#ff0000"/>
<circle cx="1151.4" cy="325.7" r="3" fill="#ff0000"/>
<circle cx="1162.3" cy="323.4" r="3" fill="#ff0000"/>
<circle cx="1213.3" cy="313.7" r="3" fill="#ff0000"/>
<circle cx="1244.4" cy="304.1" r="3" fill="#ff0000"/>
<circle cx="1252.7" cy="300.5" r="3" fill="#ff0000"/>
<circle cx="1156.2" cy="323.6" r="3" fill="#ff0000"/>
<circle cx="1192.0" cy="313.5" r="3" fill="#ff0000"/>
<circle cx="1223.2" cy="308.7" r="3" fill="#ff0000"/>
<circle cx="1191.6" cy="318.6" r="3" fill="#ff0000"/>
<circle cx="1213.7" cy="309.3" r="3" fill="#ff0000"/>
<circle cx="1161.3" cy="319.8" r="3" fill="#ff0000"/>
<circle cx="1153.6" cy="326.1" r="3" fill="#ff0000"/>
<circle cx="1155.6" cy="327.7" r="3" fill="#ff0000"/>
<circle cx="1152.1" cy="324.7" r="3" fill="#ff0000"/>
<circle cx="1197.3" cy="314.6" r="3" fill="#ff0000"/>
<circle cx="1193.0" cy="315.3" r="3" fill="#ff0000"/>
<circle cx="1199.3" cy="310.9" r="3" fill="#ff0000"/>
<circle cx="1158.2" cy="322.3" r="3" fill="#ff0000"/>
<circle cx="1161.0" cy="320.5" r="3" fill="#ff0000"/>
<circle cx="1162.5" cy="325.8" r="3" fill="#ff0000"/>
<circle cx="1234.4" cy="306.4" r="3" fill="#ff0000"/>
<circle cx="1256.0" cy="299.8" r="3" fill="#ff0000"/>
<circle cx="1246.7" cy="307.3" r="3" fill="#ff0000"/>
<circle cx="1155.0" cy="327.4" r="3" fill="#ff0000"/>
<circle cx="1153.2" cy="322.7" r="3" fill="#ff0000"/>
<circle cx="1250.2" cy="300.2" r="3" fill="#ff0000"/>
<circle cx="1187.1" cy="320.3" r="3" fill="#ff0000"/>
<circle cx="1224.1" cy="308.0" r="3" fill="#ff0000"/>
<circle cx="1173.2" cy="322.9" r="3" fill="#ff0000"/>
<circle cx="1187.6" cy="315.1" r="3" fill="#ff0000"/>
<circle cx="1193.1" cy="314.7" r="3" fill="#ff0000"/>
<circle cx="1183.7" cy="319.8" r="3" fill="#ff0000"/>
<circle cx="1203.2" cy="315.7" r="3" fill="#ff0000"/>
<circle cx="1151.2" cy="322.9" r="3" fill="#ff0000"/>
<circle cx="1215.7" cy="310.7" r="3" fill="#ff0000"/>
<circle cx="1234.9" cy="304.6" r="3" fill="#ff0000"/>
<circle cx="1160.7" cy="323.7" r="3" fill="#ff0000"/>
<circle cx="1186.2" cy="318.6" r="3" fill="#ff0000"/>
<circle cx="1220.7" cy="306.2" r="3" fill="#ff0000"/>
<circle cx="1181.0" cy="317.1" r="3" fill="#ff0000"/>
<circle cx="1161.8" cy="322.7" r="3" fill="#ff0000"/>
<circle cx="1159.5" cy="322.9" r="3" fill="#ff0000"/>
<circle cx="1192.7" cy="314.2" r="3" fill="#ff0000"/>
<circle cx="1151.3" cy="323.4" r="3" fill="#ff0000"/>
<circle cx="1241.8" cy="302.0" r="3" fill="#ff0000"/>
<circle cx="1229.1" cy="308.6" r="3" fill="#ff0000"/>
<circle cx="1216.2" cy="308.3" r="3" fill="#ff0000"/>
<circle cx="1237.2" cy="304.9" r="3" fill="#ff0000"/>
<circle cx="1206.6" cy="310.1" r="3" fill="#ff0000"/>
<circle cx="1181.0" cy="316.1" r="3" fill="#ff0000"/>
<circle cx="1203.0" cy="311.1" r="3" fill="#ff0000"/>
<circle cx="1191.8" cy="313.1" r="3" fill="#ff0000"/>
<circle cx="1254.8" cy="298.8" r="3" fill="#ff0000"/>
<circle cx="1229.5" cy="306.8" r="3" fill="#ff0000"/>
<circle cx="1167.0" cy="321.3" r="3" fill="#ff0000"/>
<circle cx="1244.4" cy="303.0" r="3" fill="#ff0000"/>
<circle cx="1221.4" cy="307.3" r="3" fill="#ff0000"/>
<circle cx="1225.9" cy="309.2" r="3" fill="#ff0000"/>
<circle cx="1230.9" cy="308.2" r="3" fill="#ff0000"/>
<circle cx="1181.1" cy="321.1" r="3" fill="#ff0000"/>
<circle cx="1242.3" cy="303.2" r="3" fill="#ff0000"/>
<circle cx="1239.9" cy="301.8" r="3" fill="#ff0000"/>
<circle cx="1214.9" cy="312.0" r="3" fill="#ff0000"/>
<circle cx="1224.4" cy="311.5" r="3" fill="#ff0000"/>
<circle cx="1224.2" cy="311.3" r="3" fill="#ff0000"/>
<circle cx="1181.1" cy="319.0" r="3" fill="#ff0000"/>
<circle cx="1218.5" cy="311.8" r="3" fill="#ff0000"/>
<circle cx="1153.6" cy="320.9" r="3" fill="#ff0000"/>
<circle cx="1174.7" cy="323.2" r="3" fill="#ff0000"/>
<circle cx="1187.8" cy="318.4" r="3" fill="#ff0000"/>
<circle cx="1151.2" cy="327.9" r="3" fill="#ff0000"/>
<circle cx="1176.0" cy="318.4" r="3" fill="#ff0000"/>
<circle cx="1207.8" cy="310.5" r="3" fill="#ff0000"/>
<circle cx="1206.0" cy="315.4" r="3" fill="#ff0000"/>
<circle cx="1164.8" cy="325.4" r="3" fill="#ff0000"/>
<circle cx="1249.3" cy="303.8" r="3" fill="#ff0000"/>
<circle cx="1211.2" cy="311.2" r="3" fill="#ff0000"/>
<circle cx="1174.3" cy="316.8" r="3" fill="#ff0000"/>
<circle cx="1210.4" cy="315.6" r="3" fill="#ff0000"/>
<circle cx="1199.4" cy="317.4" r="3" fill="#ff0000"/>
<circle cx="1195.1" cy="317.8" r="3" fill="#ff0000"/>
<circle cx="1179.4" cy="321.0" r="3" fill="#ff0000"/>
<circle cx="1257.4" cy="303.8" r="3" fill="#ff0000"/>
<circle cx="1208.2" cy="310.8" r="3" fill="#ff0000"/>
<circle cx="1215.7" cy="310.1" r="3" fill="#ff0000"/>
<circle cx="1223.7" cy="311.2" r="3" fill="#ff0000"/>
<circle cx="1254.4" cy="304.8" r="3" fill="#ff0000"/>
<circle cx="1151.5" cy="326.6" r="3" fill="#ff0000"/>
<circle cx="1204.9" cy="315.7" r="3" fill="#ff0000"/>
<circle cx="1220.6" cy="307.8" r="3" fill="#ff0000"/>
<circle cx="1166.8" cy="323.0" r="3" fill="#ff0000"/>
<circle cx="1180.7" cy="318.2" r="3" fill="#ff0000"/>
<circle cx="1152.6" cy="322.2" r="3" fill="#ff0000"/>
<circle cx="1161.8" cy="322.8" r="3" fill="#ff0000"/>
<circle cx="1178.0" cy="320.9" r="3" fill="#ff0000"/>
<circle cx="1155.1" cy="321.1" r="3" fill="#ff0000"/>
<circle cx="1166.4" cy="318.5" r="3" fill="#ff0000"/>
<circle cx="1243.6" cy="306.0" r="3" fill="#ff0000"/>
<circle cx="1197.1" cy="314.6" r="3" fill="#ff0000"/>
<circle cx="1192.2" cy="312.5" r="3" fill="#ff0000"/>
<circle cx="1252.5" cy="302.9" r="3" fill="#ff0000"/>
<circle cx="1199.2" cy="316.6" r="3" fill="#ff0000"/>
<circle cx="1256.7" cy="305.3" r="3" fill="#ff0000"/>
<circle cx="1207.7" cy="309.2" r="3" fill="#ff0000"/>
<circle cx="1230.2" cy="305.4" r="3" fill="#ff0000"/>
<circle cx="1153.9" cy="325.3" r="3" fill="#ff0000"/>
<circle cx="1202.7" cy="313.5" r="3" fill="#ff0000"/>
<circle cx="1223.4" cy="309.1" r="3" fill="#ff0000"/>
<circle cx="1152.4" cy="326.4" r="3" fill="#ff0000"/>
<circle cx="1247.1" cy="300.2" r="3" fill="#ff0000"/>
<circle cx="1159.2" cy="322.0" r="3" fill="#ff0000"/>
<circle cx="1188.2" cy="318.9" r="3" fill="#ff0000"/>
<circle cx="1159.8" cy="326.8" r="3" fill="#ff0000"/>
<circle cx="1190.8" cy="316.5" r="3" fill="#ff0000"/>
<circle cx="1204.4" cy="314.3" r="3" fill="#ff0000"/>
<circle cx="1153.0" cy="322.3" r="3" fill="#ff0000"/>
<circle cx="1249.3" cy="301.9" r="3" fill="#ff0000"/>
<circle cx="1182.7" cy="317.3" r="3" fill="#ff0000"/>
<circle cx="1194.4" cy="318.2" r="3" fill="#ff0000"/>
<circle cx="1202.8" cy="316.3" r="3" fill="#ff0000"/>
<circle cx="1177.0" cy="320.7" r="3" fill="#ff0000"/>
<circle cx="1169.4" cy="322.8" r="3" fill="#ff0000"/>
<circle cx="1209.9" cy="309.3" r="3" fill="#ff0000"/>
<circle cx="1198.3" cy="314.5" r="3" fill="#ff0000"/>
<circle cx="1169.2" cy="320.0" r="3" fill="#ff0000"/>
<circle cx="1217.7" cy="306.6" r="3" fill="#ff0000"/>
<circle cx="1170.4" cy="322.6" r="3" fill="#ff0000"/>
<circle cx="1151.3" cy="324.7" r="3" fill="#ff0000"/>
<circle cx="1165.9" cy="324.4" r="3" fill="#ff0000"/>
<circle cx="1152.3" cy="322.7" r="3" fill="#ff0000"/>
<circle cx="1158.9" cy="327.1" r="3" fill="#ff0000"/>
<circle cx="1222.7" cy="306.9" r="3" fill="#ff0000"/>
<circle cx="1179.5" cy="316.1" r="3" fill="#ff0000"/>
<circle cx="1242.5" cy="302.5" r="3" fill="#ff0000"/>
<circle cx="1291.0" cy="291.1" r="3" fill="#ff0000"/>
<circle cx="1239.2" cy="291.1" r="3" fill="#ff0000"/>
<circle cx="1232.2" cy="297.7" r="3" fill="#ff0000"/>
<circle cx="1207.0" cy="306.4" r="3" fill="#ff0000"/>
<circle cx="1260.2" cy="299.9" r="3" fill="#ff0000"/>
<circle cx="1251.8" cy="297.7" r="3" fill="#ff0000"/>
<circle cx="1256.0" cy="298.8" r="3" fill="#ff0000"/>
<circle cx="1165.0" cy="317.4" r="3" fill="#ff0000"/>
<circle cx="1179.0" cy="315.2" r="3" fill="#ff0000"/>
<circle cx="1152.5" cy="327.9" r="3" fill="#0000ff"/>
<circle cx="1162.3" cy="326.5" r="3" fill="#0000ff"/>
<circle cx="1210.6" cy="325.4" r="3" fill="#0000ff"/>
<circle cx="1153.0" cy="324.9" r="3" fill="#0000ff"/>
<circle cx="1181.2" cy="325.0" r="3" fill="#0000ff"/>
<circle cx="1180.0" cy="326.7" r="3" fill="#0000ff"/>
<circle cx="1248.2" cy="325.2" r="3" fill="#0000ff"/>
<circle cx="1193.4" cy="324.9" r="3" fill="#0000ff"/>
<circle cx="1231.8" cy="324.1" r="3" fill="#0000ff"/>
<circle cx="1164.8" cy="327.2" r="3" fill="#0000ff"/>
<circle cx="1221.2" cy="323.2" r="3" fill="#0000ff"/>
<circle cx="1174.7" cy="325.7" r="3" fill="#0000ff"/>
<circle cx="1241.6" cy="323.0" r="3" fill="#0000ff"/>
<circle cx="1152.8" cy="327.0" r="3" fill="#0000ff"/>
<circle cx="1226.9" cy="324.3" r="3" fill="#0000ff"/>
<circle cx="1158.3" cy="326.6" r="3" fill="#0000ff"/>
<circle cx="1188.2" cy="327.0" r="3" fill="#0000ff"/>
<circle cx="1186.2" cy="324.3" r="3" fill="#0000ff"/>
<circle cx="1155.5" cy="325.7" r="3" fill="#0000ff"/>
<circle cx="1227.8" cy="325.7" r="3" fill="#0000ff"/>
<circle cx="1165.4" cy="325.7" r="3" fill="#0000ff"/>
<circle cx="1165.4" cy="324.4" r="3" fill="#0000ff"/>
<circle cx="1152.3" cy="326.0" r="3" fill="#0000ff"/>
<circle cx="1165.0" cy="324.3" r="3" fill="#0000ff"/>
<circle cx="1179.8" cy="325.6" r="3" fill="#0000ff"/>
<circle cx="1210.4" cy="324.2" r="3" fill="#0000ff"/>
<circle cx="1169.5" cy="327.2" r="3" fill="#0000ff"/>
<circle cx="1206.5" cy="325.5" r="3" fill="#0000ff"/>
<circle cx="1153.3" cy="328.3" r="3" fill="#0000ff"/>
<circle cx="1172.6" cy="326.6" r="3" fill="#0000ff"/>
<circle cx="1179.2" cy="325.0" r="3" fill="#0000ff"/>
<circle cx="1250.2" cy="322.2" r="3" fill="#0000ff"/>
<circle cx="1227.5" cy="322.2" r="3" fill="#0000ff"/>
<circle cx="1202.0" cy="324.4" r="3" fill="#0000ff"/>
<circle cx="1151.1" cy="327.5" r="3" fill="#0000ff"/>
<circle cx="1171.0" cy="325.1" r="3" fill="#0000ff"/>
<circle cx="1209.7" cy="324.4" r="3" fill="#0000ff"/>
<circle cx="1160.1" cy="323.9" r="3" fill="#0000ff"/>
<circle cx="1190.7" cy="323.0" r="3" fill="#0000ff"/>
<circle cx="1178.8" cy="324.2" r="3" fill="#0000ff"/>
<circle cx="1151.0" cy="327.7" r="3" fill="#0000ff"/>
<circle cx="1254.5" cy="323.3" r="3" fill="#0000ff"/>
<circle cx="1222.8" cy="323.6" r="3" fill="#0000ff"/>
<circle cx="1158.2" cy="326.9" r="3" fill="#0000ff"/>
<circle cx="1197.1" cy="324.1" r="3" fill="#0000ff"/>
<circle cx="1163.8" cy="325.1" r="3" fill="#0000ff"/>
<circle cx="1170.9" cy="324.6" r="3" fill="#0000ff"/>
<circle cx="1187.8" cy="324.8" r="3" fill="#0000ff"/>
<circle cx="1164.4" cy="326.9" r="3" fill="#0000ff"/>
<circle cx="1167.6" cy="326.8" r="3" fill="#0000ff"/>
<circle cx="1172.4" cy="325.7" r="3" fill="#0000ff"/>
<circle cx="1203.7" cy="322.9" r="3" fill="#0000ff"/>
<circle cx="1161.4" cy="324.1" r="3" fill="#0000ff"/>
<circle cx="1157.8" cy="324.9" r="3" fill="#0000ff"/>
<circle cx="1212.7" cy="323.7" r="3" fill="#0000ff"/>
<circle cx="1166.9" cy="325.0" r="3" fill="#0000ff"/>
<circle cx="1246.4" cy="322.0" r="3" fill="#0000ff"/>
<circle cx="1190.5" cy="323.4" r="3" fill="#0000ff"/>
<circle cx="1211.6" cy="323.2" r="3" fill="#0000ff"/>
<circle cx="1167.1" cy="327.6" r="3" fill="#0000ff"/>
<circle cx="1227.0" cy="322.5" r="3" fill="#0000ff"/>
<circle cx="1152.8" cy="325.8" r="3" fill="#0000ff"/>
<circle cx="1154.7" cy="326.8" r="3" fill="#0000ff"/>
<circle cx="1152.9" cy="325.6" r="3" fill="#0000ff"/>
<circle cx="1205.2" cy="324.1" r="3" fill="#0000ff"/>
<circle cx="1209.4" cy="324.3" r="3" fill="#0000ff"/>
<circle cx="1156.7" cy="328.2" r="3" fill="#0000ff"/>
<circle cx="1173.3" cy="325.4" r="3" fill="#0000ff"/>
<circle cx="1228.6" cy="322.9" r="3" fill="#0000ff"/>
<circle cx="1194.2" cy="324.9" r="3" fill="#0000ff"/>
<circle cx="1152.8" cy="328.2" r="3" fill="#0000ff"/>
<circle cx="1159.4" cy="325.5" r="3" fill="#0000ff"/>
<circle cx="1155.5" cy="325.3" r="3" fill="#0000ff"/>
<circle cx="1154.0" cy="326.0" r="3" fill="#0000ff"/>
<circle cx="1173.8" cy="325.0" r="3" fill="#0000ff"/>
<circle cx="1152.2" cy="326.7" r="3" fill="#0000ff"/>
<circle cx="1242.2" cy="323.9" r="3" fill="#0000ff"/>
<circle cx="1175.7" cy="324.8" r="3" fill="#0000ff"/>
<circle cx="1184.6" cy="325.6" r="3" fill="#0000ff"/>
<circle cx="1201.1" cy="324.3" r="3" fill="#0000ff"/>
<circle cx="1217.9" cy="322.4" r="3" fill="#0000ff"/>
<circle cx="1226.1" cy="322.8" r="3" fill="#0000ff"/>
<circle cx="1171.8" cy="325.4" r="3" fill="#0000ff"/>
<circle cx="1167.1" cy="327.7" r="3" fill="#0000ff"/>
<circle cx="1174.3" cy="325.4" r="3" fill="#0000ff"/>
<circle cx="1151.1" cy="325.4" r="3" fill="#0000ff"/>
<circle cx="1173.2" cy="326.4" r="3" fill="#0000ff"/>
<circle cx="1208.2" cy="324.6" r="3" fill="#0000ff"/>
<circle cx="1252.8" cy="325.5" r="3" fill="#0000ff"/>
<circle cx="1221.3" cy="323.2" r="3" fill="#0000ff"/>
<circle cx="1202.8" cy="325.2" r="3" fill="#0000ff"/>
<circle cx="1196.1" cy="323.9" r="3" fill="#0000ff"/>
<circle cx="1151.1" cy="324.7" r="3" fill="#0000ff"/>
<circle cx="1167.0" cy="326.0" r="3" fill="#0000ff"/>
<circle cx="1168.0" cy="324.5" r="3" fill="#0000ff"/>
<circle cx="1201.6" cy="324.3" r="3" fill="#0000ff"/>
<circle cx="1153.3" cy="326.5" r="3" fill="#0000ff"/>
<circle cx="1171.1" cy="326.0" r="3" fill="#0000ff"/>
<circle cx="1184.4" cy="326.2" r="3" fill="#0000ff"/>
<circle cx="1221.1" cy="322.3" r="3" fill="#0000ff"/>
<circle cx="1226.7" cy="322.6" r="3" fill="#0000ff"/>
<circle cx="1196.5" cy="325.9" r="3" fill="#0000ff"/>
<circle cx="1155.6" cy="325.2" r="3" fill="#0000ff"/>
<circle cx="1217.8" cy="324.9" r="3" fill="#0000ff"/>
<circle cx="1239.3" cy="325.0" r="3" fill="#0000ff"/>
<circle cx="1188.8" cy="323.6" r="3" fill="#0000ff"/>
<circle cx="1168.8" cy="327.2" r="3" fill="#0000ff"/>
<circle cx="1183.4" cy="323.8" r="3" fill="#0000ff"/>
<circle cx="1154.8" cy="326.0" r="3" fill="#0000ff"/>
<circle cx="1210.1" cy="323.2" r="3" fill="#0000ff"/>
<circle cx="1253.7" cy="322.1" r="3" fill="#0000ff"/>
<circle cx="1185.1" cy="323.7" r="3" fill="#0000ff"/>
<circle cx="1210.4" cy="323.8" r="3" fill="#0000ff"/>
<circle cx="1228.4" cy="322.9" r="3" fill="#0000ff"/>
<circle cx="1157.6" cy="325.8" r="3" fill="#0000ff"/>
<circle cx="1246.4" cy="321.7" r="3" fill="#0000ff"/>
<circle cx="1198.5" cy="325.1" r="3" fill="#0000ff"/>
<circle cx="1157.7" cy="324.9" r="3" fill="#0000ff"/>
<circle cx="1152.5" cy="324.5" r="3" fill="#0000ff"/>
<circle cx="1160.6" cy="326.1" r="3" fill="#0000ff"/>
<circle cx="1192.2" cy="324.4" r="3" fill="#0000ff"/>
<circle cx="1207.9" cy="324.9" r="3" fill="#0000ff"/>
<circle cx="1166.9" cy="326.1" r="3" fill="#0000ff"/>
<circle cx="1243.7" cy="322.8" r="3" fill="#0000ff"/>
<circle cx="1169.6" cy="326.1" r="3" fill="#0000ff"/>
<circle cx="1179.4" cy="326.4" r="3" fill="#0000ff"/>
<circle cx="1154.0" cy="326.3" r="3" fill="#0000ff"/>
<circle cx="1251.3" cy="322.6" r="3" fill="#0000ff"/>
<circle cx="1154.5" cy="325.8" r="3" fill="#0000ff"/>
<circle cx="1239.5" cy="322.4" r="3" fill="#0000ff"/>
<circle cx="1188.2" cy="327.2" r="3" fill="#0000ff"/>
<circle cx="1190.3" cy="323.2" r="3" fill="#0000ff"/>
<circle cx="1190.2" cy="325.2" r="3" fill="#0000ff"/>
<circle cx="1161.9" cy="326.9" r="3" fill="#0000ff"/>
<circle cx="1240.3" cy="323.6" r="3" fill="#0000ff"/>
<circle cx="1254.6" cy="322.2" r="3" fill="#0000ff"/>
<circle cx="1225.5" cy="322.7" r="3" fill="#0000ff"/>
<circle cx="1195.2" cy="325.2" r="3" fill="#0000ff"/>
<circle cx="1154.0" cy="326.0" r="3" fill="#0000ff"/>
<circle cx="1226.7" cy="325.6" r="3" fill="#0000ff"/>
<circle cx="1163.7" cy="325.7" r="3" fill="#0000ff"/>
<circle cx="1238.3" cy="323.4" r="3" fill="#0000ff"/>
<circle cx="1160.3" cy="326.5" r="3" fill="#0000ff"/>
<circle cx="1191.8" cy="323.8" r="3" fill="#0000ff"/>
<circle cx="1227.6" cy="322.1" r="3" fill="#0000ff"/>
<circle cx="1157.0" cy="324.9" r="3" fill="#0000ff"/>
<circle cx="1188.8" cy="325.9" r="3" fill="#0000ff"/>
<circle cx="1152.3" cy="324.4" r="3" fill="#0000ff"/>
<circle cx="1151.3" cy="326.7" r="3" fill="#0000ff"/>
<circle cx="1156.7" cy="326.2" r="3" fill="#0000ff"/>
<circle cx="1253.7" cy="323.4" r="3" fill="#0000ff"/>
<circle cx="1245.4" cy="322.5" r="3" fill="#0000ff"/>
<circle cx="1202.6" cy="323.9" r="3" fill="#0000ff"/>
<circle cx="1165.2" cy="325.7" r="3" fill="#0000ff"/>
<circle cx="1204.3" cy="324.7" r="3" fill="#0000ff"/>
<circle cx="1213.6" cy="324.3" r="3" fill="#0000ff"/>
<circle cx="1171.4" cy="326.1" r="3" fill="#0000ff"/>
<circle cx="1194.1" cy="323.6" r="3" fill="#0000ff"/>
<circle cx="1223.4" cy="324.4" r="3" fill="#0000ff"/>
<circle cx="1151.1" cy="326.5" r="3" fill="#0000ff"/>
<circle cx="1157.8" cy="326.3" r="3" fill="#0000ff"/>
<circle cx="1179.9" cy="326.2" r="3" fill="#0000ff"/>
<circle cx="1154.8" cy="326.5" r="3" fill="#0000ff"/>
<circle cx="1171.9" cy="327.4" r="3" fill="#0000ff"/>
<circle cx="1191.3" cy="324.4" r="3" fill="#0000ff"/>
<circle cx="1156.4" cy="325.5" r="3" fill="#0000ff"/>
<circle cx="1185.5" cy="325.5" r="3" fill="#0000ff"/>
<circle cx="1161.9" cy="324.1" r="3" fill="#0000ff"/>
<circle cx="1191.1" cy="325.9" r="3" fill="#0000ff"/>
<circle cx="1167.1" cy="325.1" r="3" fill="#0000ff"/>
<circle cx="1200.4" cy="324.0" r="3" fill="#0000ff"/>
<circle cx="1151.4" cy="327.0" r="3" fill="#0000ff"/>
<circle cx="1204.3" cy="324.7" r="3" fill="#0000ff"/>
<circle cx="1154.9" cy="325.1" r="3" fill="#0000ff"/>
<circle cx="1248.8" cy="322.8" r="3" fill="#0000ff"/>
<circle cx="1195.1" cy="324.4" r="3" fill="#0000ff"/>
<circle cx="1180.1" cy="323.6" r="3" fill="#0000ff"/>
<circle cx="1174.2" cy="325.3" r="3" fill="#0000ff"/>
<circle cx="1198.1" cy="326.7" r="3" fill="#0000ff"/>
<circle cx="1206.8" cy="325.3" r="3" fill="#0000ff"/>
<circle cx="1216.6" cy="323.0" r="3" fill="#0000ff"/>
<circle cx="1215.6" cy="324.2" r="3" fill="#0000ff"/>
<circle cx="1181.8" cy="326.5" r="3" fill="#0000ff"/>
<circle cx="1255.0" cy="325.0" r="3" fill="#0000ff"/>
<circle cx="1228.8" cy="323.2" r="3" fill="#0000ff"/>
<circle cx="1231.5" cy="322.0" r="3" fill="#0000ff"/>
<circle cx="1174.0" cy="327.0" r="3" fill="#0000ff"/>
<circle cx="1176.4" cy="328.0" r="3" fill="#0000ff"/>
<circle cx="1190.9" cy="324.3" r="3" fill="#0000ff"/>
<circle cx="1239.7" cy="323.9" r="3" fill="#0000ff"/>
<circle cx="1186.2" cy="325.4" r="3" fill="#0000ff"/>
<circle cx="1186.1" cy="325.5" r="3" fill="#0000ff"/>
<circle cx="1176.2" cy="326.5" r="3" fill="#0000ff"/>
<circle cx="1239.5" cy="322.7" r="3" fill="#0000ff"/>
<circle cx="1166.2" cy="324.7" r="3" fill="#0000ff"/>
<circle cx="1151.8" cy="325.9" r="3" fill="#0000ff"/>
<circle cx="1211.9" cy="324.9" r="3" fill="#0000ff"/>
<circle cx="1238.8" cy="322.0" r="3" fill="#0000ff"/>
<circle cx="1212.8" cy="324.3" r="3" fill="#0000ff"/>
<circle cx="1194.8" cy="324.1" r="3" fill="#0000ff"/>
<circle cx="1215.7" cy="325.2" r="3" fill="#0000ff"/>
<circle cx="1164.9" cy="325.1" r="3" fill="#0000ff"/>
<circle cx="1194.2" cy="323.9" r="3" fill="#0000ff"/>
<circle cx="1152.1" cy="324.7" r="3" fill="#0000ff"/>
<circle cx="1154.0" cy="326.2" r="3" fill="#0000ff"/>
<circle cx="1177.7" cy="324.9" r="3" fill="#0000ff"/>
<circle cx="1183.6" cy="325.9" r="3" fill="#0000ff"/>
<circle cx="1172.8" cy="324.5" r="3" fill="#0000ff"/>
<circle cx="1151.7" cy="325.4" r="3" fill="#0000ff"/>
<circle cx="1207.6" cy="323.1" r="3" fill="#0000ff"/>
<circle cx="1186.3" cy="325.6" r="3" fill="#0000ff"/>
<circle cx="1160.2" cy="327.5" r="3" fill="#0000ff"/>
<circle cx="1165.0" cy="325.9" r="3" fill="#0000ff"/>
<circle cx="1172.7" cy="325.8" r="3" fill="#0000ff"/>
<circle cx="1160.0" cy="326.9" r="3" fill="#0000ff"/>
<circle cx="1152.1" cy="325.6" r="3" fill="#0000ff"/>
<circle cx="1240.7" cy="322.0" r="3" fill="#0000ff"/>
<circle cx="1250.1" cy="322.4" r="3" fill="#0000ff"/>
<circle cx="1203.6" cy="323.2" r="3" fill="#0000ff"/>
<circle cx="1233.3" cy="323.0" r="3" fill="#0000ff"/>
<circle cx="1175.2" cy="326.6" r="3" fill="#0000ff"/>
<circle cx="1223.7" cy="324.5" r="3" fill="#0000ff"/>
<circle cx="1159.1" cy="326.5" r="3" fill="#0000ff"/>
<circle cx="1214.9" cy="323.3" r="3" fill="#0000ff"/>
<circle cx="1191.0" cy="323.8" r="3" fill="#0000ff"/>
<circle cx="1239.3" cy="323.1" r="3" fill="#0000ff"/>
<circle cx="1153.0" cy="325.1" r="3" fill="#0000ff"/>
<circle cx="1221.7" cy="324.8" r="3" fill="#0000ff"/>
<circle cx="1154.0" cy="326.4" r="3" fill="#0000ff"/>
<circle cx="1187.6" cy="323.3" r="3" fill="#0000ff"/>
<circle cx="1247.4" cy="322.4" r="3" fill="#0000ff"/>
<circle cx="1151.0" cy="325.1" r="3" fill="#0000ff"/>
<circle cx="1160.5" cy="328.2" r="3" fill="#0000ff"/>
<circle cx="1164.5" cy="327.8" r="3" fill="#0000ff"/>
<circle cx="1166.5" cy="326.8" r="3" fill="#0000ff"/>
<circle cx="1151.9" cy="325.1" r="3" fill="#0000ff"/>
<circle cx="1238.0" cy="321.9" r="3" fill="#0000ff"/>
<circle cx="1225.2" cy="324.5" r="3" fill="#0000ff"/>
<circle cx="1172.9" cy="326.7" r="3" fill="#0000ff"/>
<circle cx="1169.2" cy="326.9" r="3" fill="#0000ff"/>
<circle cx="1193.3" cy="325.9" r="3" fill="#0000ff"/>
<circle cx="1151.6" cy="325.6" r="3" fill="#0000ff"/>
<circle cx="1151.3" cy="326.7" r="3" fill="#0000ff"/>
<circle cx="1238.5" cy="321.9" r="3" fill="#0000ff"/>
<circle cx="1165.2" cy="325.0" r="3" fill="#0000ff"/>
<circle cx="1183.1" cy="326.0" r="3" fill="#0000ff"/>
<circle cx="1244.5" cy="322.8" r="3" fill="#0000ff"/>
<circle cx="1252.0" cy="323.0" r="3" fill="#0000ff"/>
<circle cx="1180.4" cy="324.4" r="3" fill="#0000ff"/>
<circle cx="1158.2" cy="325.0" r="3" fill="#0000ff"/>
<circle cx="1164.2" cy="326.3" r="3" fill="#0000ff"/>
<circle cx="1242.6" cy="322.0" r="3" fill="#0000ff"/>
<circle cx="1238.3" cy="322.6" r="3" fill="#0000ff"/>
<circle cx="1157.5" cy="326.2" r="3" fill="#0000ff"/>
<circle cx="1228.7" cy="323.3" r="3" fill="#0000ff"/>
<circle cx="1169.0" cy="324.9" r="3" fill="#0000ff"/>
<circle cx="1180.4" cy="325.7" r="3" fill="#0000ff"/>
<circle cx="1156.3" cy="326.9" r="3" fill="#0000ff"/>
<circle cx="1235.4" cy="321.9" r="3" fill="#0000ff"/>
<circle cx="1255.2" cy="322.7" r="3" fill="#0000ff"/>
<circle cx="1157.9" cy="326.8" r="3" fill="#0000ff"/>
<circle cx="1199.2" cy="324.1" r="3" fill="#0000ff"/>
<circle cx="1157.3" cy="327.9" r="3" fill="#0000ff"/>
<circle cx="1235.5" cy="323.3" r="3" fill="#0000ff"/>
<circle cx="1151.6" cy="327.9" r="3" fill="#0000ff"/>
<circle cx="1153.3" cy="326.8" r="3" fill="#0000ff"/>
<circle cx="1211.9" cy="326.3" r="3" fill="#0000ff"/>
<circle cx="1165.6" cy="326.7" r="3" fill="#0000ff"/>
<circle cx="1238.8" cy="322.2" r="3" fill="#0000ff"/>
<circle cx="1233.8" cy="323.6" r="3" fill="#0000ff"/>
<circle cx="1210.1" cy="325.7" r="3" fill="#0000ff"/>
<circle cx="1154.5" cy="324.1" r="3" fill="#0000ff"/>
<circle cx="1207.7" cy="325.1" r="3" fill="#0000ff"/>
<circle cx="1245.1" cy="321.7" r="3" fill="#0000ff"/>
<circle cx="1177.5" cy="326.0" r="3" fill="#0000ff"/>
<circle cx="1152.4" cy="328.0" r="3" fill="#0000ff"/>
<circle cx="1159.2" cy="323.9" r="3" fill="#0000ff"/>
<circle cx="1165.1" cy="326.3" r="3" fill="#0000ff"/>
<circle cx="1209.7" cy="323.4" r="3" fill="#0000ff"/>
<circle cx="1157.6" cy="324.7" r="3" fill="#0000ff"/>
<circle cx="1156.7" cy="327.7" r="3" fill="#0000ff"/>
<circle cx="1160.0" cy="325.9" r="3" fill="#0000ff"/>
<circle cx="1203.4" cy="325.2" r="3" fill="#0000ff"/>
<circle cx="1221.4" cy="323.1" r="3" fill="#0000ff"/>
<circle cx="1170.6" cy="325.7" r="3" fill="#0000ff"/>
<circle cx="1203.1" cy="326.0" r="3" fill="#0000ff"/>
<circle cx="1236.2" cy="323.3" r="3" fill="#0000ff"/>
<circle cx="1193.8" cy="323.9" r="3" fill="#0000ff"/>
<circle cx="1159.6" cy="326.4" r="3" fill="#0000ff"/>
<circle cx="1164.6" cy="325.2" r="3" fill="#0000ff"/>
<circle cx="1243.3" cy="323.7" r="3" fill="#0000ff"/>
<circle cx="1203.8" cy="324.5" r="3" fill="#0000ff"/>
<circle cx="1162.8" cy="325.5" r="3" fill="#0000ff"/>
<circle cx="1200.2" cy="324.4" r="3" fill="#0000ff"/>
<circle cx="1152.8" cy="324.8" r="3" fill="#0000ff"/>
<circle cx="1253.0" cy="321.6" r="3" fill="#0000ff"/>
<circle cx="1177.0" cy="324.4" r="3" fill="#0000ff"/>
<circle cx="1186.5" cy="324.2" r="3" fill="#0000ff"/>
<circle cx="1186.8" cy="324.9" r="3" fill="#0000ff"/>
<circle cx="1151.5" cy="327.7" r="3" fill="#0000ff"/>
<circle cx="1195.0" cy="323.5" r="3" fill="#0000ff"/>
<circle cx="1163.4" cy="323.8" r="3" fill="#0000ff"/>
<circle cx="1161.0" cy="325.7" r="3" fill="#0000ff"/>
<circle cx="1223.3" cy="324.1" r="3" fill="#0000ff"/>
<circle cx="1152.7" cy="326.3" r="3" fill="#0000ff"/>
<circle cx="1163.4" cy="324.5" r="3" fill="#0000ff"/>
<circle cx="1216.2" cy="323.7" r="3" fill="#0000ff"/>
<circle cx="1160.7" cy="327.1" r="3" fill="#0000ff"/>
<circle cx="1163.0" cy="326.1" r="3" fill="#0000ff"/>
<circle cx="1188.8" cy="325.9" r="3" fill="#0000ff"/>
<circle cx="1157.0" cy="326.3" r="3" fill="#0000ff"/>
<circle cx="1238.3" cy="324.3" r="3" fill="#0000ff"/>
<circle cx="1253.8" cy="323.7" r="3" fill="#0000ff"/>
<circle cx="1151.3" cy="324.6" r="3" fill="#0000ff"/>
<circle cx="1179.2" cy="324.1" r="3" fill="#0000ff"/>
<circle cx="1215.5" cy="326.0" r="3" fill="#0000ff"/>
<circle cx="1171.7" cy="326.7" r="3" fill="#0000ff"/>
<circle cx="1243.7" cy="323.6" r="3" fill="#0000ff"/>
<circle cx="1183.3" cy="325.6" r="3" fill="#0000ff"/>
<circle cx="1156.7" cy="327.8" r="3" fill="#0000ff"/>
<circle cx="1291.0" cy="320.6" r="3" fill="#0000ff"/>
<circle cx="1237.8" cy="309.7" r="3" fill="#0000ff"/>
<circle cx="1230.8" cy="317.4" r="3" fill="#0000ff"/>
<circle cx="1261.6" cy="322.8" r="3" fill="#0000ff"/>
<circle cx="1158.0" cy="322.8" r="3" fill="#0000ff"/>
<circle cx="1193.0" cy="320.6" r="3" fill="#0000ff"/>
<line x1="1151.0" y1="328.3" x2="1291.0" y2="218.9" stroke="#000" stroke-width="1.3"/>
</g>
<line x1="1151.0" y1="336" x2="1151.0" y2="339" stroke="#222" stroke-width="0.8"/>
<text x="1151.0" y="349.5" font-size="9.5" fill="#222" text-anchor="middle">0.0</text>
<line x1="1138.5" y1="328.3" x2="1141.5" y2="328.3" stroke="#222" stroke-width="0.8"/>
<text x="1135" y="331.8" font-size="9.5" fill="#222" text-anchor="end">0.0</text>
<line x1="1179.0" y1="336" x2="1179.0" y2="339" stroke="#222" stroke-width="0.8"/>
<text x="1179.0" y="349.5" font-size="9.5" fill="#222" text-anchor="middle">0.2</text>
<line x1="1138.5" y1="306.4" x2="1141.5" y2="306.4" stroke="#222" stroke-width="0.8"/>
<text x="1135" y="309.9" font-size="9.5" fill="#222" text-anchor="end">0.2</text>
<line x1="1207.0" y1="336" x2="1207.0" y2="339" stroke="#222" stroke-width="0.8"/>
<text x="1207.0" y="349.5" font-size="9.5" fill="#222" text-anchor="middle">0.4</text>
<line x1="1138.5" y1="284.5" x2="1141.5" y2="284.5" stroke="#222" stroke-width="0.8"/>
<text x="1135" y="288.0" font-size="9.5" fill="#222" text-anchor="end">0.4</text>
<line x1="1235.0" y1="336" x2="1235.0" y2="339" stroke="#222" stroke-width="0.8"/>
<text x="1235.0" y="349.5" font-size="9.5" fill="#222" text-anchor="middle">0.6</text>
<line x1="1138.5" y1="262.7" x2="1141.5" y2="262.7" stroke="#222" stroke-width="0.8"/>
<text x="1135" y="266.2" font-size="9.5" fill="#222" text-anchor="end">0.6</text>
<line x1="1263.0" y1="336" x2="1263.0" y2="339" stroke="#222" stroke-width="0.8"/>
<text x="1263.0" y="349.5" font-size="9.5" fill="#222" text-anchor="middle">0.8</text>
<line x1="1138.5" y1="240.8" x2="1141.5" y2="240.8" stroke="#222" stroke-width="0.8"/>
<text x="1135" y="244.3" font-size="9.5" fill="#222" text-anchor="end">0.8</text>
<line x1="1291.0" y1="336" x2="1291.0" y2="339" stroke="#222" stroke-width="0.8"/>
<text x="1291.0" y="349.5" font-size="9.5" fill="#222" text-anchor="middle">1.0</text>
<line x1="1138.5" y1="218.9" x2="1141.5" y2="218.9" stroke="#222" stroke-width="0.8"/>
<text x="1135" y="222.4" font-size="9.5" fill="#222" text-anchor="end">1.0</text>
<text x="1131.6" y="369.2" font-size="12" fill="#222" textLength="177.4" lengthAdjust="spacingAndGlyphs">Baseline instance-wise RMSE</text>
<text x="0" y="0" font-size="12" fill="#222" text-anchor="middle" transform="translate(1099.5,278.5) rotate(-90)" textLength="51" lengthAdjust="spacingAndGlyphs">MIRACLE</text>
<text x="0" y="0" font-size="12" fill="#222" text-anchor="middle" transform="translate(1111.5,273.5) rotate(-90)" textLength="121" lengthAdjust="spacingAndGlyphs">instance-wise RMSE</text>
<rect x="1144" y="215" width="92.7" height="52" rx="2" fill="#fff" fill-opacity="0.85" stroke="#ccc" stroke-width="0.8"/>
<circle cx="1159.2" cy="223.9" r="3.3" fill="#ffc0cb"/>
<text x="1177.4" y="227.7" font-size="10.5" fill="#222" textLength="48.6" lengthAdjust="spacingAndGlyphs">Epoch 20</text>
<circle cx="1159.2" cy="240.5" r="3.3" fill="#ff0000"/>
<text x="1177.4" y="244.3" font-size="10.5" fill="#222" textLength="48.6" lengthAdjust="spacingAndGlyphs">Epoch 50</text>
<circle cx="1159.2" cy="257.0" r="3.3" fill="#0000ff"/>
<text x="1177.4" y="260.8" font-size="10.5" fill="#222" textLength="54.6" lengthAdjust="spacingAndGlyphs">Epoch 150</text>
</svg>
</body></html>
